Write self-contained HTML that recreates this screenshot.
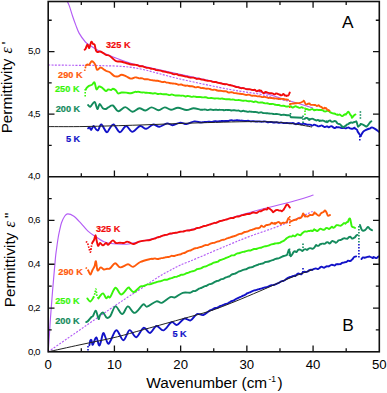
<!DOCTYPE html>
<html><head><meta charset="utf-8"><style>
html,body{margin:0;padding:0;background:#fff;}
svg{display:block;font-family:"Liberation Sans",sans-serif;}
</style></head><body>
<svg width="387" height="393" viewBox="0 0 387 393">
<rect width="387" height="393" fill="#fff"/>
<path d="M67.30,1.50 C67.67,2.32 68.60,3.90 69.50,6.40 C70.40,8.90 71.63,13.33 72.70,16.50 C73.77,19.67 74.83,22.63 75.90,25.40 C76.97,28.17 77.52,30.33 79.10,33.10 C80.68,35.87 83.50,39.88 85.40,42.00 C87.30,44.12 88.35,44.38 90.50,45.80 C92.65,47.22 94.42,48.58 98.30,50.50 C102.18,52.42 108.52,55.22 113.80,57.30 C119.08,59.38 124.30,61.33 130.00,63.00 C135.70,64.67 139.67,65.42 148.00,67.30 C156.33,69.18 166.33,71.35 180.00,74.30 C193.67,77.25 216.67,82.05 230.00,85.00 C243.33,87.95 250.00,89.33 260.00,92.00 C270.00,94.67 281.17,98.33 290.00,101.00 C298.83,103.67 309.17,106.83 313.00,108.00" fill="none" stroke="#b35cf5" stroke-width="1.15"/>
<path d="M48.20,65.00 C52.67,65.05 66.37,65.20 75.00,65.30 C83.63,65.40 90.00,65.17 100.00,65.60 C110.00,66.03 121.67,65.67 135.00,67.90 C148.33,70.13 164.17,75.40 180.00,79.00 C195.83,82.60 216.67,86.97 230.00,89.50 C243.33,92.03 252.50,92.75 260.00,94.20 C267.50,95.65 270.00,96.98 275.00,98.20 C280.00,99.42 287.50,100.95 290.00,101.50" fill="none" stroke="#b35cf5" stroke-width="1.15" stroke-dasharray="2.0 1.4"/>
<path d="M48.20,351.80 C48.40,348.98 49.02,340.60 49.40,334.90 C49.78,329.20 49.98,324.82 50.50,317.60 C51.02,310.38 51.68,301.47 52.50,291.60 C53.32,281.73 54.75,265.33 55.40,258.40 C56.05,251.47 55.93,253.48 56.40,250.00 C56.87,246.52 57.68,240.67 58.20,237.50 C58.72,234.33 58.95,233.45 59.50,231.00 C60.05,228.55 60.62,225.30 61.50,222.80 C62.38,220.30 63.75,217.48 64.80,216.00 C65.85,214.52 66.35,213.90 67.80,213.90 C69.25,213.90 71.37,214.52 73.50,216.00 C75.63,217.48 78.23,220.33 80.60,222.80 C82.97,225.27 85.33,228.58 87.70,230.80 C90.07,233.02 92.08,234.27 94.80,236.10 C97.52,237.93 100.95,240.52 104.00,241.80 C107.05,243.08 109.33,243.40 113.10,243.80 C116.87,244.20 123.28,244.32 126.60,244.20 C129.92,244.08 129.23,243.88 133.00,243.10 C136.77,242.32 143.87,240.80 149.20,239.50 C154.53,238.20 157.87,237.00 165.00,235.30 C172.13,233.60 184.50,231.13 192.00,229.30 C199.50,227.47 203.95,226.05 210.00,224.30 C216.05,222.55 221.38,220.85 228.30,218.80 C235.22,216.75 240.38,215.00 251.50,212.00 C262.62,209.00 284.67,203.63 295.00,200.80 C305.33,197.97 310.42,195.97 313.50,195.00" fill="none" stroke="#b35cf5" stroke-width="1.15"/>
<path d="M48.20,351.80 C56.83,345.83 86.70,325.13 100.00,316.00 C113.30,306.87 121.33,301.42 128.00,297.00 C134.67,292.58 136.33,291.92 140.00,289.50 C143.67,287.08 146.67,284.75 150.00,282.50 C153.33,280.25 156.67,278.02 160.00,276.00 C163.33,273.98 166.67,272.18 170.00,270.40 C173.33,268.62 175.00,267.53 180.00,265.30 C185.00,263.07 191.95,260.38 200.00,257.00 C208.05,253.62 219.72,248.55 228.30,245.00 C236.88,241.45 243.75,238.60 251.50,235.70 C259.25,232.80 267.55,230.32 274.80,227.60 C282.05,224.88 288.68,222.10 295.00,219.40 C301.32,216.70 309.75,212.73 312.70,211.40" fill="none" stroke="#b35cf5" stroke-width="1.15" stroke-dasharray="2.0 1.4"/>
<path d="M88.10,128.30 C88.37,128.18 89.18,127.33 89.70,127.60 C90.22,127.87 90.57,130.17 91.20,129.90 C91.83,129.63 92.72,126.13 93.50,126.00 C94.28,125.87 95.12,128.40 95.90,129.10 C96.68,129.80 97.30,130.97 98.20,130.20 C99.10,129.43 99.88,124.17 101.30,124.50 C102.72,124.83 105.28,131.57 106.70,132.20 C108.12,132.83 108.63,129.58 109.80,128.30 C110.97,127.02 112.02,123.85 113.70,124.50 C115.38,125.15 117.83,131.95 119.90,132.20 C121.97,132.45 124.03,126.05 126.10,126.00 C128.17,125.95 129.98,131.90 132.30,131.90 C134.62,131.90 137.68,126.52 140.00,126.00 C142.32,125.48 144.00,129.05 146.20,128.80 C148.40,128.55 151.00,124.83 153.20,124.50 C155.40,124.17 157.08,126.98 159.40,126.80 C161.72,126.62 164.90,123.67 167.10,123.40 C169.30,123.13 170.40,125.33 172.60,125.20 C174.80,125.07 177.98,122.78 180.30,122.60 C182.62,122.42 184.17,124.30 186.50,124.10 C188.83,123.90 192.05,121.70 194.30,121.40 C196.55,121.10 198.80,122.13 200.00,122.30 C201.20,122.47 201.00,122.44 201.50,122.42 C202.00,122.40 202.50,122.27 203.00,122.19 C203.50,122.12 204.00,122.00 204.50,121.98 C205.00,121.95 205.50,122.06 206.00,122.04 C206.50,122.02 207.00,121.92 207.50,121.85 C208.00,121.77 208.50,121.58 209.00,121.59 C209.50,121.60 210.00,121.85 210.50,121.90 C211.00,121.95 211.50,121.97 212.00,121.90 C212.50,121.83 213.00,121.62 213.50,121.49 C214.00,121.36 214.50,121.10 215.00,121.09 C215.50,121.09 216.00,121.40 216.50,121.45 C217.00,121.50 217.50,121.45 218.00,121.42 C218.50,121.39 219.00,121.34 219.50,121.29 C220.00,121.24 220.50,121.16 221.00,121.11 C221.50,121.06 222.00,120.98 222.50,120.98 C223.00,120.98 223.50,121.14 224.00,121.13 C224.50,121.12 225.00,120.96 225.50,120.94 C226.00,120.92 226.50,120.98 227.00,120.99 C227.50,121.00 228.00,121.11 228.50,121.02 C229.00,120.93 229.50,120.60 230.00,120.46 C230.50,120.31 231.00,120.13 231.50,120.15 C232.00,120.16 232.50,120.50 233.00,120.57 C233.50,120.63 234.17,120.57 234.50,120.55 C234.83,120.52 234.75,120.43 235.00,120.40 C235.25,120.37 235.58,120.37 236.00,120.35 C236.42,120.33 237.00,120.26 237.50,120.28 C238.00,120.29 238.50,120.38 239.00,120.44 C239.50,120.51 240.00,120.63 240.50,120.66 C241.00,120.68 241.50,120.53 242.00,120.58 C242.50,120.62 243.00,120.85 243.50,120.93 C244.00,121.01 244.50,121.08 245.00,121.07 C245.50,121.07 246.00,120.98 246.50,120.91 C247.00,120.85 247.50,120.65 248.00,120.68 C248.50,120.70 249.00,120.96 249.50,121.07 C250.00,121.18 250.50,121.35 251.00,121.36 C251.50,121.38 252.00,121.18 252.50,121.16 C253.00,121.14 253.50,121.18 254.00,121.22 C254.50,121.27 255.00,121.38 255.50,121.43 C256.00,121.49 256.50,121.54 257.00,121.54 C257.50,121.53 258.00,121.43 258.50,121.42 C259.00,121.41 259.50,121.45 260.00,121.50 C260.50,121.55 261.00,121.72 261.50,121.74 C262.00,121.76 262.50,121.67 263.00,121.62 C263.50,121.57 264.00,121.42 264.50,121.42 C265.00,121.42 265.50,121.49 266.00,121.63 C266.50,121.78 267.00,122.22 267.50,122.30 C268.00,122.38 268.50,122.17 269.00,122.13 C269.50,122.09 270.00,122.07 270.50,122.07 C271.00,122.06 271.50,122.02 272.00,122.10 C272.50,122.18 273.00,122.47 273.50,122.54 C274.00,122.60 274.50,122.51 275.00,122.47 C275.50,122.43 276.00,122.26 276.50,122.29 C277.00,122.32 277.50,122.56 278.00,122.66 C278.50,122.76 279.00,122.91 279.50,122.88 C280.00,122.85 280.50,122.50 281.00,122.50 C281.50,122.49 282.00,122.74 282.50,122.85 C283.00,122.96 283.50,123.11 284.00,123.15 C284.50,123.18 285.00,123.10 285.50,123.08 C286.00,123.06 286.50,122.99 287.00,123.00 C287.50,123.02 288.00,123.11 288.50,123.16 C289.00,123.21 289.50,123.29 290.00,123.30 C290.50,123.31 291.00,123.29 291.50,123.24 C292.00,123.20 292.50,122.95 293.00,123.02 C293.50,123.10 294.00,123.50 294.50,123.70 C295.00,123.90 295.50,124.27 296.00,124.22 C296.50,124.18 297.00,123.63 297.50,123.43 C298.00,123.24 298.50,122.94 299.00,123.06 C299.50,123.17 300.00,123.93 300.50,124.12 C301.00,124.31 301.58,124.22 302.00,124.20 C302.42,124.18 302.75,124.12 303.00,124.00 C303.25,123.88 303.17,123.46 303.50,123.47 C303.83,123.47 304.50,123.88 305.00,124.03 C305.50,124.17 306.00,124.19 306.50,124.32 C307.00,124.44 307.50,124.73 308.00,124.77 C308.50,124.82 309.00,124.56 309.50,124.58 C310.00,124.60 310.50,124.71 311.00,124.88 C311.50,125.05 312.00,125.63 312.50,125.60 C313.00,125.57 313.50,124.79 314.00,124.70 C314.50,124.61 315.00,124.89 315.50,125.05 C316.00,125.21 316.50,125.45 317.00,125.67 C317.50,125.90 318.00,126.34 318.50,126.39 C319.00,126.45 319.50,126.17 320.00,126.00 C320.50,125.83 321.00,125.38 321.50,125.40 C322.00,125.42 322.50,125.87 323.00,126.13 C323.50,126.39 324.00,126.87 324.50,126.95 C325.00,127.02 325.50,126.67 326.00,126.60 C326.50,126.53 327.00,126.39 327.50,126.51 C328.00,126.63 328.50,127.33 329.00,127.32 C329.50,127.31 330.00,126.61 330.50,126.45 C331.00,126.29 331.50,126.16 332.00,126.34 C332.50,126.51 333.00,127.23 333.50,127.50 C334.00,127.77 334.50,128.06 335.00,127.99 C335.50,127.91 336.12,127.13 336.50,127.03 C336.88,126.93 337.05,127.36 337.30,127.40 C337.55,127.44 337.63,127.26 338.00,127.25 C338.37,127.25 339.00,127.25 339.50,127.36 C340.00,127.47 340.50,127.80 341.00,127.92 C341.50,128.05 342.00,128.11 342.50,128.11 C343.00,128.10 343.50,127.87 344.00,127.91 C344.50,127.96 345.17,128.31 345.50,128.38 C345.83,128.44 345.75,128.37 346.00,128.30 C346.25,128.23 346.58,128.07 347.00,127.93 C347.42,127.79 348.00,127.39 348.50,127.46 C349.00,127.54 349.50,128.14 350.00,128.36 C350.50,128.58 351.00,128.76 351.50,128.78 C352.00,128.81 352.50,128.71 353.00,128.51 C353.50,128.32 354.23,127.66 354.50,127.62 C354.77,127.59 354.35,128.07 354.60,128.30 C354.85,128.53 355.57,128.70 356.00,128.98 C356.43,129.27 356.95,129.62 357.20,130.00 C357.45,130.38 357.22,130.72 357.50,131.28 C357.78,131.85 358.65,133.01 358.90,133.40 C359.15,133.79 358.70,133.18 359.00,133.61 C359.30,134.04 360.42,135.60 360.70,136.00" fill="none" stroke="#1212c8" stroke-width="1.90" stroke-linejoin="round" stroke-linecap="round"/>
<path d="M360.70,136.00 C361.13,135.28 362.30,132.77 363.30,131.70 C364.30,130.63 365.55,130.17 366.70,129.60 C367.85,129.03 369.33,128.67 370.20,128.30 C371.07,127.93 371.03,127.27 371.90,127.40 C372.77,127.53 374.25,128.38 375.40,129.10 C376.55,129.82 378.23,131.27 378.80,131.70" fill="none" stroke="#1212c8" stroke-width="1.90" stroke-linejoin="round" stroke-linecap="round"/>
<line x1="359.8" y1="136.0" x2="359.8" y2="141.0" stroke="#1212c8" stroke-width="1.60" stroke-dasharray="1.4 1.6"/>
<path d="M88.10,105.10 C88.48,105.35 89.32,107.12 90.40,106.60 C91.48,106.08 93.43,101.60 94.60,102.00 C95.77,102.40 96.55,108.67 97.40,109.00 C98.25,109.33 98.80,104.13 99.70,104.00 C100.60,103.87 101.77,107.37 102.80,108.20 C103.83,109.03 104.98,109.13 105.90,109.00 C106.82,108.87 107.13,107.98 108.30,107.40 C109.47,106.82 111.23,104.85 112.90,105.50 C114.57,106.15 116.23,111.03 118.30,111.30 C120.37,111.57 122.97,107.03 125.30,107.10 C127.63,107.17 129.97,111.52 132.30,111.70 C134.63,111.88 137.12,108.40 139.30,108.20 C141.48,108.00 143.35,110.63 145.40,110.50 C147.45,110.37 149.40,107.45 151.60,107.40 C153.80,107.35 156.40,110.20 158.60,110.20 C160.80,110.20 162.73,107.48 164.80,107.40 C166.87,107.32 168.80,109.65 171.00,109.70 C173.20,109.75 175.42,107.65 178.00,107.70 C180.58,107.75 183.92,109.92 186.50,110.00 C189.08,110.08 191.25,108.27 193.50,108.20 C195.75,108.13 198.67,109.34 200.00,109.60 C201.33,109.86 201.00,109.74 201.50,109.75 C202.00,109.77 202.50,109.71 203.00,109.67 C203.50,109.62 204.00,109.48 204.50,109.48 C205.00,109.48 205.50,109.55 206.00,109.65 C206.50,109.75 207.00,110.07 207.50,110.10 C208.00,110.13 208.50,109.96 209.00,109.86 C209.50,109.75 210.00,109.51 210.50,109.49 C211.00,109.47 211.50,109.66 212.00,109.74 C212.50,109.82 213.00,109.95 213.50,109.95 C214.00,109.95 214.50,109.78 215.00,109.75 C215.50,109.71 216.00,109.70 216.50,109.74 C217.00,109.77 217.50,109.95 218.00,109.96 C218.50,109.97 219.00,109.82 219.50,109.81 C220.00,109.79 220.50,109.87 221.00,109.88 C221.50,109.89 222.00,109.82 222.50,109.87 C223.00,109.92 223.50,110.16 224.00,110.18 C224.50,110.19 225.00,110.00 225.50,109.95 C226.00,109.91 226.50,109.92 227.00,109.93 C227.50,109.94 228.00,109.99 228.50,110.02 C229.00,110.05 229.50,110.03 230.00,110.10 C230.50,110.17 231.00,110.43 231.50,110.45 C232.00,110.48 232.50,110.29 233.00,110.27 C233.50,110.24 234.00,110.24 234.50,110.30 C235.00,110.35 235.50,110.53 236.00,110.57 C236.50,110.62 237.00,110.57 237.50,110.58 C238.00,110.59 238.50,110.51 239.00,110.63 C239.50,110.75 240.00,111.23 240.50,111.31 C241.00,111.40 241.50,111.23 242.00,111.15 C242.50,111.07 243.00,110.81 243.50,110.82 C244.00,110.83 244.50,111.10 245.00,111.21 C245.50,111.32 246.00,111.38 246.50,111.49 C247.00,111.59 247.50,111.84 248.00,111.85 C248.50,111.86 249.00,111.56 249.50,111.55 C250.00,111.53 250.50,111.67 251.00,111.73 C251.50,111.79 252.00,111.87 252.50,111.91 C253.00,111.94 253.50,111.94 254.00,111.94 C254.50,111.95 255.00,111.89 255.50,111.94 C256.00,112.00 256.50,112.17 257.00,112.29 C257.50,112.41 258.00,112.64 258.50,112.68 C259.00,112.71 259.50,112.56 260.00,112.50 C260.50,112.44 261.00,112.24 261.50,112.32 C262.00,112.41 262.50,112.91 263.00,113.03 C263.50,113.16 264.00,113.05 264.50,113.08 C265.00,113.10 265.50,113.15 266.00,113.18 C266.50,113.21 267.00,113.20 267.50,113.26 C268.00,113.32 268.50,113.47 269.00,113.53 C269.50,113.59 270.00,113.60 270.50,113.61 C271.00,113.63 271.50,113.55 272.00,113.62 C272.50,113.69 273.00,113.97 273.50,114.05 C274.00,114.12 274.50,114.09 275.00,114.09 C275.50,114.08 276.00,114.00 276.50,114.00 C277.00,114.01 277.50,114.06 278.00,114.13 C278.50,114.20 279.00,114.30 279.50,114.44 C280.00,114.58 280.50,114.93 281.00,115.00 C281.50,115.06 282.00,114.89 282.50,114.85 C283.00,114.80 283.50,114.68 284.00,114.71 C284.50,114.74 285.00,114.95 285.50,115.03 C286.00,115.11 286.50,115.18 287.00,115.21 C287.50,115.24 288.00,115.16 288.50,115.21 C289.00,115.26 289.75,115.45 290.00,115.50" fill="none" stroke="#138a5c" stroke-width="1.90" stroke-linejoin="round" stroke-linecap="round"/>
<path d="M291.00,117.30 L302.00,117.80" fill="none" stroke="#138a5c" stroke-width="1.90" stroke-linejoin="round" stroke-linecap="round"/>
<line x1="303.0" y1="115.5" x2="303.0" y2="124.0" stroke="#138a5c" stroke-width="1.60" stroke-dasharray="1.4 1.6"/>
<line x1="290.5" y1="113.0" x2="290.5" y2="117.5" stroke="#138a5c" stroke-width="1.60" stroke-dasharray="1.4 1.6"/>
<path d="M304.50,118.80 C304.75,118.67 305.50,118.12 306.00,118.01 C306.50,117.90 307.00,117.81 307.50,118.13 C308.00,118.45 308.58,119.79 309.00,119.94 C309.42,120.08 309.75,119.10 310.00,119.00 C310.25,118.90 310.17,119.41 310.50,119.34 C310.83,119.28 311.50,118.61 312.00,118.59 C312.50,118.57 313.00,119.00 313.50,119.20 C314.00,119.41 314.50,119.63 315.00,119.84 C315.50,120.05 316.00,120.45 316.50,120.44 C317.00,120.44 317.50,119.74 318.00,119.83 C318.50,119.92 319.17,120.88 319.50,120.99 C319.83,121.10 319.75,120.54 320.00,120.50 C320.25,120.46 320.58,120.76 321.00,120.75 C321.42,120.74 322.00,120.43 322.50,120.44 C323.00,120.45 323.50,120.59 324.00,120.81 C324.50,121.02 325.02,121.65 325.50,121.73 C325.98,121.81 326.65,121.21 326.90,121.30 C327.15,121.39 326.73,122.30 327.00,122.28 C327.27,122.26 328.00,121.49 328.50,121.17 C329.00,120.86 329.50,120.28 330.00,120.38 C330.50,120.47 331.00,121.53 331.50,121.74 C332.00,121.95 332.50,121.77 333.00,121.65 C333.50,121.53 334.07,121.08 334.50,121.02 C334.93,120.97 335.35,121.23 335.60,121.30 C335.85,121.37 335.68,121.08 336.00,121.43 C336.32,121.78 337.00,122.96 337.50,123.39 C338.00,123.82 338.50,123.80 339.00,124.00 C339.50,124.20 340.00,124.11 340.50,124.58 C341.00,125.04 341.67,126.46 342.00,126.78 C342.33,127.10 342.25,126.43 342.50,126.50 C342.75,126.57 343.08,127.26 343.50,127.21 C343.92,127.15 344.58,126.40 345.00,126.15 C345.42,125.90 345.75,125.94 346.00,125.70 C346.25,125.46 346.17,124.95 346.50,124.71 C346.83,124.47 347.52,124.57 348.00,124.29 C348.48,124.00 349.15,123.14 349.40,123.00 C349.65,122.86 349.23,123.54 349.50,123.45 C349.77,123.36 350.50,122.58 351.00,122.46 C351.50,122.34 352.05,122.77 352.50,122.73 C352.95,122.69 353.45,122.28 353.70,122.20 C353.95,122.12 353.70,122.31 354.00,122.22 C354.30,122.13 355.12,121.82 355.50,121.67 C355.88,121.51 356.05,121.04 356.30,121.30 C356.55,121.56 356.72,122.37 357.00,123.24 C357.28,124.11 357.75,125.99 358.00,126.50 C358.25,127.01 358.17,126.51 358.50,126.28 C358.83,126.04 359.63,125.48 360.00,125.10 C360.37,124.72 360.58,124.18 360.70,124.00" fill="none" stroke="#138a5c" stroke-width="1.90" stroke-linejoin="round" stroke-linecap="round"/>
<line x1="360.4" y1="111.3" x2="360.4" y2="119.0" stroke="#138a5c" stroke-width="1.60" stroke-dasharray="1.4 1.6"/>
<path d="M360.70,124.00 C361.13,124.13 362.30,124.38 363.30,124.80 C364.30,125.22 365.55,126.93 366.70,126.50 C367.85,126.07 369.42,123.07 370.20,122.20 C370.98,121.33 371.20,121.45 371.40,121.30" fill="none" stroke="#138a5c" stroke-width="1.90" stroke-linejoin="round" stroke-linecap="round"/>
<path d="M85.90,89.50 C86.00,89.28 85.98,88.80 86.50,88.20 C87.02,87.60 88.08,86.47 89.00,85.90 C89.92,85.33 91.08,85.37 92.00,84.80 C92.92,84.23 93.75,81.73 94.50,82.50 C95.25,83.27 95.75,88.73 96.50,89.40 C97.25,90.07 98.08,86.80 99.00,86.50 C99.92,86.20 100.83,86.83 102.00,87.60 C103.17,88.37 105.00,90.80 106.00,91.10 C107.00,91.40 107.17,89.58 108.00,89.40 C108.83,89.22 110.17,90.10 111.00,90.00 C111.83,89.90 112.17,88.72 113.00,88.80 C113.83,88.88 115.17,89.73 116.00,90.50 C116.83,91.27 117.08,93.07 118.00,93.40 C118.92,93.73 120.13,92.63 121.50,92.50 C122.87,92.37 124.65,92.47 126.20,92.60 C127.75,92.73 129.33,93.43 130.80,93.30 C132.27,93.17 134.05,92.03 135.00,91.80 C135.95,91.57 136.00,91.95 136.50,91.94 C137.00,91.94 137.50,91.75 138.00,91.77 C138.50,91.79 139.00,91.95 139.50,92.05 C140.00,92.15 140.50,92.30 141.00,92.37 C141.50,92.44 142.00,92.47 142.50,92.47 C143.00,92.47 143.50,92.34 144.00,92.38 C144.50,92.42 145.00,92.66 145.50,92.72 C146.00,92.79 146.50,92.73 147.00,92.76 C147.50,92.79 148.00,92.88 148.50,92.92 C149.00,92.97 149.50,92.96 150.00,93.02 C150.50,93.07 151.00,93.18 151.50,93.27 C152.00,93.35 152.50,93.52 153.00,93.52 C153.50,93.51 154.00,93.27 154.50,93.23 C155.00,93.20 155.50,93.18 156.00,93.31 C156.50,93.43 157.00,93.90 157.50,94.00 C158.00,94.10 158.50,93.95 159.00,93.91 C159.50,93.86 160.00,93.70 160.50,93.73 C161.00,93.77 161.50,94.04 162.00,94.12 C162.50,94.21 163.00,94.22 163.50,94.23 C164.00,94.24 164.50,94.19 165.00,94.20 C165.50,94.20 166.00,94.21 166.50,94.29 C167.00,94.37 167.50,94.55 168.00,94.68 C168.50,94.81 169.00,95.09 169.50,95.08 C170.00,95.06 170.50,94.69 171.00,94.61 C171.50,94.53 172.00,94.50 172.50,94.60 C173.00,94.70 173.50,95.05 174.00,95.20 C174.50,95.35 175.00,95.44 175.50,95.48 C176.00,95.53 176.50,95.47 177.00,95.47 C177.50,95.46 178.00,95.42 178.50,95.44 C179.00,95.46 179.50,95.56 180.00,95.60 C180.50,95.64 181.00,95.67 181.50,95.68 C182.00,95.68 182.50,95.55 183.00,95.62 C183.50,95.70 184.00,95.99 184.50,96.13 C185.00,96.26 185.50,96.47 186.00,96.44 C186.50,96.41 187.00,96.01 187.50,95.95 C188.00,95.89 188.50,95.97 189.00,96.07 C189.50,96.17 190.00,96.41 190.50,96.54 C191.00,96.67 191.50,96.83 192.00,96.84 C192.50,96.85 193.00,96.60 193.50,96.57 C194.00,96.55 194.50,96.62 195.00,96.68 C195.50,96.73 196.00,96.89 196.50,96.93 C197.00,96.97 197.50,96.91 198.00,96.93 C198.50,96.95 199.00,97.01 199.50,97.05 C200.00,97.08 200.50,97.08 201.00,97.14 C201.50,97.20 202.00,97.35 202.50,97.39 C203.00,97.43 203.50,97.41 204.00,97.38 C204.50,97.35 205.00,97.18 205.50,97.21 C206.00,97.24 206.50,97.43 207.00,97.58 C207.50,97.73 208.00,98.02 208.50,98.11 C209.00,98.19 209.50,98.12 210.00,98.10 C210.50,98.08 211.00,97.96 211.50,97.98 C212.00,98.00 212.50,98.14 213.00,98.23 C213.50,98.31 214.00,98.45 214.50,98.48 C215.00,98.51 215.50,98.41 216.00,98.40 C216.50,98.38 217.00,98.34 217.50,98.39 C218.00,98.43 218.50,98.61 219.00,98.67 C219.50,98.74 220.00,98.81 220.50,98.80 C221.00,98.78 221.50,98.55 222.00,98.57 C222.50,98.58 223.00,98.77 223.50,98.87 C224.00,98.97 224.50,99.12 225.00,99.18 C225.50,99.24 226.00,99.21 226.50,99.22 C227.00,99.23 227.50,99.23 228.00,99.24 C228.50,99.26 229.00,99.24 229.50,99.31 C230.00,99.38 230.50,99.63 231.00,99.66 C231.50,99.69 232.00,99.49 232.50,99.49 C233.00,99.49 233.50,99.55 234.00,99.65 C234.50,99.76 235.00,100.05 235.50,100.13 C236.00,100.21 236.50,100.14 237.00,100.12 C237.50,100.10 238.00,100.00 238.50,100.02 C239.00,100.03 239.50,100.12 240.00,100.20 C240.50,100.28 241.00,100.40 241.50,100.49 C242.00,100.58 242.50,100.70 243.00,100.73 C243.50,100.76 244.00,100.65 244.50,100.65 C245.00,100.64 245.50,100.58 246.00,100.67 C246.50,100.77 247.00,101.09 247.50,101.19 C248.00,101.29 248.50,101.26 249.00,101.25 C249.50,101.25 250.00,101.13 250.50,101.17 C251.00,101.21 251.50,101.35 252.00,101.48 C252.50,101.62 253.00,101.96 253.50,101.97 C254.00,101.98 254.50,101.60 255.00,101.55 C255.50,101.51 256.00,101.58 256.50,101.70 C257.00,101.82 257.50,102.13 258.00,102.29 C258.50,102.46 259.17,102.66 259.50,102.67 C259.83,102.69 259.75,102.42 260.00,102.40 C260.25,102.38 260.58,102.54 261.00,102.56 C261.42,102.58 262.00,102.47 262.50,102.54 C263.00,102.62 263.50,102.89 264.00,103.03 C264.50,103.17 265.00,103.35 265.50,103.39 C266.00,103.44 266.50,103.26 267.00,103.30 C267.50,103.34 268.00,103.52 268.50,103.64 C269.00,103.77 269.50,103.98 270.00,104.04 C270.50,104.10 271.00,104.03 271.50,104.01 C272.00,103.99 272.50,103.83 273.00,103.92 C273.50,104.00 274.00,104.33 274.50,104.50 C275.00,104.67 275.50,104.84 276.00,104.92 C276.50,105.00 277.00,104.98 277.50,104.99 C278.00,105.01 278.50,104.90 279.00,105.00 C279.50,105.09 280.00,105.41 280.50,105.55 C281.00,105.69 281.50,105.81 282.00,105.84 C282.50,105.87 283.00,105.69 283.50,105.73 C284.00,105.78 284.50,106.00 285.00,106.14 C285.50,106.27 286.00,106.50 286.50,106.56 C287.00,106.62 287.50,106.54 288.00,106.50 C288.50,106.46 289.00,106.35 289.50,106.34 C290.00,106.33 290.50,106.26 291.00,106.46 C291.50,106.66 292.00,107.46 292.50,107.54 C293.00,107.61 293.50,107.13 294.00,106.91 C294.50,106.69 295.00,106.26 295.50,106.23 C296.00,106.21 296.50,106.56 297.00,106.77 C297.50,106.98 298.00,107.32 298.50,107.50 C299.00,107.68 299.50,107.92 300.00,107.87 C300.50,107.82 301.00,107.20 301.50,107.19 C302.00,107.18 302.75,107.70 303.00,107.80" fill="none" stroke="#38f50a" stroke-width="1.90" stroke-linejoin="round" stroke-linecap="round"/>
<path d="M305.50,109.30 C305.67,109.22 306.08,108.80 306.50,108.83 C306.92,108.86 307.50,109.32 308.00,109.50 C308.50,109.68 309.00,109.93 309.50,109.91 C310.00,109.90 310.50,109.57 311.00,109.43 C311.50,109.28 312.00,108.89 312.50,109.04 C313.00,109.19 313.58,110.19 314.00,110.32 C314.42,110.45 314.75,109.85 315.00,109.80 C315.25,109.75 315.17,110.02 315.50,110.00 C315.83,109.99 316.50,109.70 317.00,109.70 C317.50,109.71 318.00,109.99 318.50,110.04 C319.00,110.09 319.50,110.00 320.00,110.00 C320.50,110.00 321.00,109.98 321.50,110.06 C322.00,110.14 322.50,110.25 323.00,110.47 C323.50,110.69 324.00,111.23 324.50,111.38 C325.00,111.53 325.58,111.42 326.00,111.36 C326.42,111.29 326.75,111.16 327.00,111.00 C327.25,110.84 327.17,110.33 327.50,110.39 C327.83,110.44 328.52,111.00 329.00,111.35 C329.48,111.70 330.15,112.32 330.40,112.50 C330.65,112.68 330.23,112.31 330.50,112.42 C330.77,112.53 331.50,112.98 332.00,113.16 C332.50,113.33 333.00,113.38 333.50,113.48 C334.00,113.57 334.50,113.55 335.00,113.74 C335.50,113.93 336.12,114.48 336.50,114.59 C336.88,114.70 337.05,114.33 337.30,114.40 C337.55,114.47 337.63,114.98 338.00,115.00 C338.37,115.01 339.00,114.42 339.50,114.50 C340.00,114.58 340.50,115.21 341.00,115.48 C341.50,115.74 342.00,116.21 342.50,116.10 C343.00,115.99 343.50,115.13 344.00,114.82 C344.50,114.52 345.17,114.32 345.50,114.25 C345.83,114.18 345.75,114.60 346.00,114.40 C346.25,114.20 346.58,113.50 347.00,113.07 C347.42,112.64 348.00,111.61 348.50,111.80 C349.00,111.99 349.50,113.45 350.00,114.18 C350.50,114.91 351.17,115.57 351.50,116.19 C351.83,116.81 351.75,117.84 352.00,117.90 C352.25,117.96 352.58,116.99 353.00,116.52 C353.42,116.05 354.08,115.44 354.50,115.08 C354.92,114.73 355.33,114.51 355.50,114.40" fill="none" stroke="#38f50a" stroke-width="1.90" stroke-linejoin="round" stroke-linecap="round"/>
<line x1="85.2" y1="89.0" x2="85.2" y2="97.5" stroke="#38f50a" stroke-width="1.60" stroke-dasharray="1.4 1.6"/>
<line x1="305.0" y1="107.5" x2="305.0" y2="115.0" stroke="#38f50a" stroke-width="1.60" stroke-dasharray="1.4 1.6"/>
<path d="M84.60,70.90 C84.72,70.42 85.07,68.93 85.30,68.00 C85.53,67.07 85.88,65.75 86.00,65.30" fill="none" stroke="#ff5a0a" stroke-width="1.70" stroke-dasharray="1.5 1.3"/>
<path d="M86.00,65.30 C86.25,65.17 86.97,64.60 87.50,64.50 C88.03,64.40 88.53,65.23 89.20,64.70 C89.87,64.17 90.75,61.68 91.50,61.30 C92.25,60.92 93.03,61.73 93.70,62.40 C94.37,63.07 94.92,64.05 95.50,65.30 C96.08,66.55 96.35,69.53 97.20,69.90 C98.05,70.27 99.37,67.50 100.60,67.50 C101.83,67.50 103.65,69.32 104.60,69.90 C105.55,70.48 105.43,70.62 106.30,71.00 C107.17,71.38 108.45,71.33 109.80,72.20 C111.15,73.07 112.97,75.52 114.40,76.20 C115.83,76.88 117.22,76.55 118.40,76.30 C119.58,76.05 120.20,74.70 121.50,74.70 C122.80,74.70 124.65,75.65 126.20,76.30 C127.75,76.95 129.33,78.42 130.80,78.60 C132.27,78.78 134.05,77.59 135.00,77.40 C135.95,77.21 136.00,77.41 136.50,77.49 C137.00,77.57 137.50,77.73 138.00,77.88 C138.50,78.03 139.00,78.32 139.50,78.38 C140.00,78.43 140.50,78.19 141.00,78.20 C141.50,78.21 142.00,78.31 142.50,78.45 C143.00,78.59 143.50,78.89 144.00,79.04 C144.50,79.18 145.00,79.25 145.50,79.30 C146.00,79.34 146.50,79.27 147.00,79.28 C147.50,79.30 148.00,79.27 148.50,79.38 C149.00,79.49 149.50,79.81 150.00,79.94 C150.50,80.07 151.00,80.11 151.50,80.17 C152.00,80.24 152.50,80.27 153.00,80.33 C153.50,80.39 154.00,80.48 154.50,80.55 C155.00,80.63 155.50,80.75 156.00,80.79 C156.50,80.82 157.00,80.71 157.50,80.76 C158.00,80.81 158.50,80.95 159.00,81.07 C159.50,81.20 160.00,81.33 160.50,81.49 C161.00,81.65 161.50,81.98 162.00,82.06 C162.50,82.13 163.00,81.98 163.50,81.94 C164.00,81.90 164.50,81.72 165.00,81.82 C165.50,81.92 166.00,82.40 166.50,82.54 C167.00,82.68 167.50,82.58 168.00,82.66 C168.50,82.73 169.00,82.90 169.50,83.00 C170.00,83.10 170.50,83.20 171.00,83.27 C171.50,83.34 172.00,83.38 172.50,83.44 C173.00,83.50 173.50,83.60 174.00,83.65 C174.50,83.69 175.00,83.64 175.50,83.71 C176.00,83.78 176.50,83.88 177.00,84.05 C177.50,84.22 178.00,84.62 178.50,84.71 C179.00,84.81 179.50,84.64 180.00,84.60 C180.50,84.56 181.00,84.36 181.50,84.45 C182.00,84.54 182.50,84.97 183.00,85.15 C183.50,85.32 184.00,85.41 184.50,85.50 C185.00,85.59 185.50,85.67 186.00,85.68 C186.50,85.69 187.00,85.51 187.50,85.57 C188.00,85.63 188.50,85.92 189.00,86.03 C189.50,86.14 190.00,86.20 190.50,86.24 C191.00,86.27 191.50,86.19 192.00,86.24 C192.50,86.30 193.00,86.37 193.50,86.55 C194.00,86.73 194.50,87.19 195.00,87.32 C195.50,87.44 196.00,87.37 196.50,87.32 C197.00,87.27 197.50,87.03 198.00,87.04 C198.50,87.04 199.00,87.20 199.50,87.37 C200.00,87.54 200.50,87.92 201.00,88.04 C201.50,88.15 202.00,88.04 202.50,88.07 C203.00,88.11 203.50,88.18 204.00,88.27 C204.50,88.35 205.00,88.50 205.50,88.58 C206.00,88.66 206.50,88.73 207.00,88.74 C207.50,88.75 208.00,88.57 208.50,88.62 C209.00,88.66 209.50,88.83 210.00,89.01 C210.50,89.18 211.00,89.54 211.50,89.68 C212.00,89.83 212.50,89.89 213.00,89.88 C213.50,89.87 214.00,89.60 214.50,89.63 C215.00,89.65 215.50,89.88 216.00,90.03 C216.50,90.18 217.00,90.38 217.50,90.51 C218.00,90.64 218.50,90.77 219.00,90.81 C219.50,90.86 220.00,90.75 220.50,90.79 C221.00,90.82 221.50,90.93 222.00,91.00 C222.50,91.08 223.00,91.18 223.50,91.22 C224.00,91.25 224.50,91.17 225.00,91.21 C225.50,91.25 226.00,91.28 226.50,91.46 C227.00,91.64 227.50,92.12 228.00,92.30 C228.50,92.47 229.00,92.51 229.50,92.51 C230.00,92.51 230.50,92.34 231.00,92.30 C231.50,92.27 232.00,92.17 232.50,92.30 C233.00,92.42 233.50,92.91 234.00,93.05 C234.50,93.20 235.00,93.09 235.50,93.15 C236.00,93.21 236.50,93.33 237.00,93.40 C237.50,93.48 238.00,93.52 238.50,93.59 C239.00,93.65 239.50,93.73 240.00,93.80 C240.50,93.87 241.00,93.93 241.50,93.98 C242.00,94.03 242.50,94.00 243.00,94.09 C243.50,94.18 244.00,94.40 244.50,94.55 C245.00,94.69 245.50,94.91 246.00,94.96 C246.50,95.00 247.00,94.87 247.50,94.82 C248.00,94.77 248.50,94.59 249.00,94.66 C249.50,94.74 250.00,95.10 250.50,95.27 C251.00,95.45 251.50,95.64 252.00,95.70 C252.50,95.76 253.00,95.65 253.50,95.65 C254.00,95.65 254.50,95.65 255.00,95.72 C255.50,95.79 256.00,95.97 256.50,96.07 C257.00,96.18 257.50,96.31 258.00,96.33 C258.50,96.36 259.17,96.18 259.50,96.20 C259.83,96.23 259.75,96.43 260.00,96.50 C260.25,96.57 260.58,96.53 261.00,96.64 C261.42,96.75 262.00,97.11 262.50,97.15 C263.00,97.19 263.50,96.90 264.00,96.88 C264.50,96.87 265.00,96.98 265.50,97.07 C266.00,97.15 266.50,97.24 267.00,97.39 C267.50,97.55 268.00,97.94 268.50,98.01 C269.00,98.08 269.50,97.80 270.00,97.81 C270.50,97.82 271.00,97.95 271.50,98.04 C272.00,98.13 272.50,98.27 273.00,98.35 C273.50,98.43 274.17,98.49 274.50,98.51 C274.83,98.54 274.75,98.53 275.00,98.50 C275.25,98.47 275.58,98.32 276.00,98.35 C276.42,98.37 277.00,98.55 277.50,98.64 C278.00,98.74 278.50,98.91 279.00,98.94 C279.50,98.98 280.00,98.87 280.50,98.85 C281.00,98.84 281.50,98.82 282.00,98.85 C282.50,98.88 283.00,98.92 283.50,99.03 C284.00,99.14 284.50,99.42 285.00,99.51 C285.50,99.60 286.00,99.55 286.50,99.57 C287.00,99.58 287.75,99.59 288.00,99.60" fill="none" stroke="#ff5a0a" stroke-width="1.90" stroke-linejoin="round" stroke-linecap="round"/>
<line x1="289.8" y1="100.5" x2="289.8" y2="108.0" stroke="#ff5a0a" stroke-width="1.60" stroke-dasharray="1.4 1.6"/>
<path d="M290.50,104.00 C290.75,103.93 291.08,103.73 292.00,103.60 C292.92,103.47 294.67,103.32 296.00,103.20 C297.33,103.08 298.83,103.18 300.00,102.90 C301.17,102.62 302.33,101.85 303.00,101.50 C303.67,101.15 303.58,100.38 304.00,100.80 C304.42,101.22 305.08,103.40 305.50,104.00 C305.92,104.60 306.08,104.41 306.50,104.37 C306.92,104.33 307.50,103.88 308.00,103.74 C308.50,103.59 309.17,103.40 309.50,103.50 C309.83,103.59 309.75,104.08 310.00,104.30 C310.25,104.52 310.58,104.72 311.00,104.82 C311.42,104.91 312.00,104.85 312.50,104.87 C313.00,104.89 313.58,104.93 314.00,104.95 C314.42,104.97 314.75,104.99 315.00,105.00 C315.25,105.01 315.17,104.82 315.50,105.02 C315.83,105.21 316.50,106.15 317.00,106.17 C317.50,106.20 318.00,105.14 318.50,105.19 C319.00,105.25 319.50,106.20 320.00,106.50 C320.50,106.80 321.00,106.67 321.50,107.02 C322.00,107.37 322.50,108.48 323.00,108.60 C323.50,108.73 324.17,107.80 324.50,107.78 C324.83,107.77 324.75,108.45 325.00,108.50 C325.25,108.55 325.58,107.85 326.00,108.09 C326.42,108.32 327.17,109.60 327.50,109.92 C327.83,110.24 327.67,109.87 328.00,110.00 C328.33,110.13 329.25,110.58 329.50,110.70" fill="none" stroke="#ff5a0a" stroke-width="1.90" stroke-linejoin="round" stroke-linecap="round"/>
<path d="M84.60,49.70 C84.77,49.55 85.13,49.67 85.60,48.80 C86.07,47.93 86.78,44.63 87.40,44.50 C88.02,44.37 88.67,48.45 89.30,48.00 C89.93,47.55 90.57,42.47 91.20,41.80 C91.83,41.13 92.53,43.53 93.10,44.00 C93.67,44.47 94.13,43.55 94.60,44.60 C95.07,45.65 95.42,49.07 95.90,50.30 C96.38,51.53 96.82,51.80 97.50,52.00 C98.18,52.20 99.10,51.37 100.00,51.50 C100.90,51.63 101.90,52.25 102.90,52.80 C103.90,53.35 104.98,54.35 106.00,54.80 C107.02,55.25 107.97,54.97 109.00,55.50 C110.03,56.03 111.02,57.05 112.20,58.00 C113.38,58.95 114.80,60.62 116.10,61.20 C117.40,61.78 118.58,61.27 120.00,61.50 C121.42,61.73 122.93,62.15 124.60,62.60 C126.27,63.05 128.27,63.83 130.00,64.20 C131.73,64.57 133.92,64.67 135.00,64.80 C136.08,64.93 136.00,64.89 136.50,64.98 C137.00,65.07 137.50,65.15 138.00,65.35 C138.50,65.56 139.00,66.07 139.50,66.22 C140.00,66.36 140.50,66.20 141.00,66.22 C141.50,66.23 142.00,66.19 142.50,66.30 C143.00,66.41 143.50,66.70 144.00,66.89 C144.50,67.07 145.00,67.24 145.50,67.41 C146.00,67.57 146.50,67.78 147.00,67.87 C147.50,67.96 148.00,67.86 148.50,67.93 C149.00,68.00 149.50,68.17 150.00,68.30 C150.50,68.44 151.00,68.64 151.50,68.74 C152.00,68.84 152.50,68.82 153.00,68.90 C153.50,68.98 154.00,69.02 154.50,69.22 C155.00,69.42 155.50,69.92 156.00,70.08 C156.50,70.24 157.00,70.14 157.50,70.18 C158.00,70.22 158.50,70.25 159.00,70.32 C159.50,70.40 160.00,70.52 160.50,70.65 C161.00,70.78 161.50,70.96 162.00,71.11 C162.50,71.26 163.00,71.45 163.50,71.55 C164.00,71.65 164.50,71.60 165.00,71.71 C165.50,71.82 166.00,72.06 166.50,72.19 C167.00,72.31 167.50,72.35 168.00,72.46 C168.50,72.56 169.00,72.71 169.50,72.81 C170.00,72.91 170.50,72.88 171.00,73.04 C171.50,73.21 172.00,73.61 172.50,73.81 C173.00,74.01 173.50,74.18 174.00,74.24 C174.50,74.30 175.00,74.16 175.50,74.16 C176.00,74.16 176.50,74.08 177.00,74.25 C177.50,74.41 178.00,74.97 178.50,75.15 C179.00,75.33 179.50,75.24 180.00,75.30 C180.50,75.36 181.00,75.42 181.50,75.52 C182.00,75.61 182.50,75.76 183.00,75.88 C183.50,75.99 184.00,76.10 184.50,76.21 C185.00,76.33 185.50,76.47 186.00,76.57 C186.50,76.66 187.00,76.67 187.50,76.79 C188.00,76.90 188.50,77.12 189.00,77.26 C189.50,77.41 190.00,77.61 190.50,77.67 C191.00,77.72 191.50,77.62 192.00,77.62 C192.50,77.61 193.00,77.57 193.50,77.66 C194.00,77.75 194.50,77.95 195.00,78.16 C195.50,78.37 196.00,78.81 196.50,78.91 C197.00,79.02 197.50,78.80 198.00,78.77 C198.50,78.75 199.00,78.68 199.50,78.78 C200.00,78.88 200.50,79.23 201.00,79.37 C201.50,79.52 202.00,79.60 202.50,79.66 C203.00,79.72 203.50,79.62 204.00,79.75 C204.50,79.88 205.00,80.30 205.50,80.45 C206.00,80.60 206.50,80.56 207.00,80.64 C207.50,80.72 208.00,80.88 208.50,80.91 C209.00,80.94 209.50,80.78 210.00,80.84 C210.50,80.90 211.00,81.12 211.50,81.30 C212.00,81.48 212.50,81.81 213.00,81.93 C213.50,82.05 214.00,82.02 214.50,82.03 C215.00,82.04 215.50,81.89 216.00,81.99 C216.50,82.09 217.00,82.47 217.50,82.64 C218.00,82.80 218.50,82.87 219.00,82.97 C219.50,83.07 220.00,83.13 220.50,83.23 C221.00,83.33 221.50,83.42 222.00,83.55 C222.50,83.69 223.00,83.93 223.50,84.04 C224.00,84.15 224.50,84.18 225.00,84.21 C225.50,84.23 226.00,84.11 226.50,84.17 C227.00,84.24 227.50,84.41 228.00,84.58 C228.50,84.75 229.17,85.11 229.50,85.18 C229.83,85.25 229.75,84.96 230.00,85.00 C230.25,85.04 230.58,85.31 231.00,85.41 C231.42,85.52 232.00,85.51 232.50,85.65 C233.00,85.78 233.50,86.03 234.00,86.22 C234.50,86.41 235.00,86.63 235.50,86.78 C236.00,86.93 236.50,87.02 237.00,87.10 C237.50,87.18 238.00,87.14 238.50,87.28 C239.00,87.41 239.50,87.75 240.00,87.90 C240.50,88.05 241.00,88.17 241.50,88.18 C242.00,88.19 242.50,87.93 243.00,87.98 C243.50,88.03 244.00,88.29 244.50,88.48 C245.00,88.67 245.50,88.97 246.00,89.10 C246.50,89.23 247.00,89.24 247.50,89.26 C248.00,89.29 248.50,89.24 249.00,89.25 C249.50,89.25 250.00,89.20 250.50,89.31 C251.00,89.42 251.50,89.79 252.00,89.92 C252.50,90.04 253.00,90.05 253.50,90.03 C254.00,90.00 254.50,89.55 255.00,89.77 C255.50,89.98 256.00,91.16 256.50,91.30 C257.00,91.44 257.50,90.78 258.00,90.60 C258.50,90.43 259.17,90.19 259.50,90.26 C259.83,90.33 259.75,90.93 260.00,91.00 C260.25,91.07 260.58,90.47 261.00,90.68 C261.42,90.89 262.00,91.87 262.50,92.27 C263.00,92.67 263.50,93.14 264.00,93.08 C264.50,93.03 265.00,92.04 265.50,91.93 C266.00,91.82 266.50,92.26 267.00,92.43 C267.50,92.60 268.00,92.81 268.50,92.95 C269.00,93.10 269.50,93.25 270.00,93.30 C270.50,93.35 271.00,93.23 271.50,93.27 C272.00,93.31 272.50,93.36 273.00,93.55 C273.50,93.73 274.00,94.39 274.50,94.38 C275.00,94.37 275.50,93.59 276.00,93.49 C276.50,93.39 277.00,93.63 277.50,93.78 C278.00,93.94 278.58,94.32 279.00,94.44 C279.42,94.55 279.75,94.34 280.00,94.50 C280.25,94.66 280.17,95.28 280.50,95.37 C280.83,95.46 281.50,95.28 282.00,95.04 C282.50,94.80 283.00,93.85 283.50,93.93 C284.00,94.02 284.58,95.31 285.00,95.57 C285.42,95.83 285.75,95.44 286.00,95.50 C286.25,95.56 286.17,95.96 286.50,95.95 C286.83,95.93 287.67,95.52 288.00,95.41 C288.33,95.30 288.20,95.79 288.50,95.30 C288.80,94.81 289.58,92.97 289.80,92.50" fill="none" stroke="#f20a0a" stroke-width="1.90" stroke-linejoin="round" stroke-linecap="round"/>
<path d="M89.40,345.20 C89.53,344.48 89.87,341.75 90.20,340.90 C90.53,340.05 91.02,339.45 91.40,340.10 C91.78,340.75 92.12,344.35 92.50,344.80 C92.88,345.25 93.05,344.03 93.70,342.80 C94.35,341.57 95.43,336.95 96.40,337.40 C97.37,337.85 98.40,346.15 99.50,345.50 C100.60,344.85 102.10,335.10 103.00,333.50 C103.90,331.90 104.07,334.22 104.90,335.90 C105.73,337.58 107.03,342.83 108.00,343.60 C108.97,344.37 109.30,342.73 110.70,340.50 C112.10,338.27 114.28,330.25 116.40,330.20 C118.52,330.15 121.20,340.20 123.40,340.20 C125.60,340.20 127.47,330.70 129.60,330.20 C131.73,329.70 133.87,337.60 136.20,337.20 C138.53,336.80 141.30,328.50 143.60,327.80 C145.90,327.10 147.85,333.30 150.00,333.00 C152.15,332.70 154.25,326.45 156.50,326.00 C158.75,325.55 160.98,330.93 163.50,330.30 C166.02,329.67 169.35,323.10 171.60,322.20 C173.85,321.30 174.88,325.50 177.00,324.90 C179.12,324.30 182.03,319.35 184.30,318.60 C186.57,317.85 188.48,321.17 190.60,320.40 C192.72,319.63 194.88,314.90 197.00,314.00 C199.12,313.10 201.13,315.60 203.30,315.00 C205.47,314.40 208.63,311.23 210.00,310.40 C211.37,309.57 211.00,310.22 211.50,310.01 C212.00,309.81 212.50,309.45 213.00,309.15 C213.50,308.86 214.00,308.44 214.50,308.25 C215.00,308.05 215.50,308.09 216.00,308.00 C216.50,307.91 217.00,307.91 217.50,307.70 C218.00,307.49 218.50,307.03 219.00,306.73 C219.50,306.44 220.00,306.14 220.50,305.94 C221.00,305.74 221.50,305.70 222.00,305.53 C222.50,305.37 223.00,305.16 223.50,304.93 C224.00,304.69 224.50,304.32 225.00,304.14 C225.50,303.95 226.00,303.94 226.50,303.82 C227.00,303.71 227.70,303.59 228.00,303.45 C228.30,303.32 228.05,303.18 228.30,303.00 C228.55,302.82 229.05,302.66 229.50,302.40 C229.95,302.13 230.50,301.66 231.00,301.40 C231.50,301.15 232.00,301.03 232.50,300.86 C233.00,300.70 233.50,300.67 234.00,300.41 C234.50,300.16 235.00,299.64 235.50,299.32 C236.00,299.01 236.50,298.78 237.00,298.53 C237.50,298.27 238.00,298.03 238.50,297.81 C239.00,297.58 239.50,297.38 240.00,297.16 C240.50,296.94 241.00,296.75 241.50,296.49 C242.00,296.23 242.50,295.81 243.00,295.60 C243.50,295.39 244.00,295.48 244.50,295.24 C245.00,295.01 245.50,294.53 246.00,294.19 C246.50,293.85 247.00,293.46 247.50,293.20 C248.00,292.95 248.50,292.82 249.00,292.64 C249.50,292.45 250.08,292.29 250.50,292.08 C250.92,291.87 251.25,291.51 251.50,291.40 C251.75,291.29 251.67,291.57 252.00,291.42 C252.33,291.28 253.00,290.73 253.50,290.53 C254.00,290.34 254.50,290.36 255.00,290.26 C255.50,290.16 256.00,290.07 256.50,289.91 C257.00,289.76 257.50,289.49 258.00,289.33 C258.50,289.17 259.00,289.09 259.50,288.97 C260.00,288.85 260.50,288.74 261.00,288.61 C261.50,288.48 262.00,288.36 262.50,288.19 C263.00,288.02 263.50,287.73 264.00,287.59 C264.50,287.45 265.00,287.41 265.50,287.33 C266.00,287.25 266.50,287.23 267.00,287.08 C267.50,286.94 268.00,286.68 268.50,286.45 C269.00,286.23 269.50,285.93 270.00,285.73 C270.50,285.53 271.00,285.35 271.50,285.25 C272.00,285.14 272.50,285.18 273.00,285.09 C273.50,285.01 274.17,284.82 274.50,284.72 C274.83,284.62 274.75,284.61 275.00,284.50 C275.25,284.39 275.58,284.22 276.00,284.03 C276.42,283.84 277.00,283.54 277.50,283.33 C278.00,283.13 278.50,283.05 279.00,282.79 C279.50,282.53 280.00,282.07 280.50,281.79 C281.00,281.52 281.50,281.32 282.00,281.15 C282.50,280.98 283.00,280.97 283.50,280.78 C284.00,280.58 284.50,280.32 285.00,280.00 C285.50,279.68 286.00,279.25 286.50,278.88 C287.00,278.52 287.50,278.07 288.00,277.82 C288.50,277.56 289.17,277.50 289.50,277.35 C289.83,277.20 289.75,276.97 290.00,276.90 C290.25,276.83 290.58,277.07 291.00,276.95 C291.42,276.82 292.00,276.34 292.50,276.16 C293.00,275.97 293.58,275.96 294.00,275.85 C294.42,275.74 294.75,275.48 295.00,275.50 C295.25,275.52 295.17,276.17 295.50,275.97 C295.83,275.77 296.50,274.71 297.00,274.29 C297.50,273.88 298.00,273.53 298.50,273.49 C299.00,273.44 299.50,273.89 300.00,274.00 C300.50,274.11 301.00,274.48 301.50,274.16 C302.00,273.84 302.50,272.50 303.00,272.09 C303.50,271.68 304.00,271.71 304.50,271.70 C305.00,271.68 305.50,272.01 306.00,272.00 C306.50,271.98 307.00,271.88 307.50,271.61 C308.00,271.33 308.50,270.62 309.00,270.33 C309.50,270.05 310.10,270.02 310.50,269.90 C310.90,269.78 311.15,269.57 311.40,269.60 C311.65,269.63 311.65,270.15 312.00,270.07 C312.35,269.99 313.00,269.36 313.50,269.11 C314.00,268.86 314.50,268.66 315.00,268.56 C315.50,268.47 316.00,268.47 316.50,268.56 C317.00,268.65 317.50,269.17 318.00,269.09 C318.50,269.01 319.00,268.45 319.50,268.06 C320.00,267.68 320.50,266.95 321.00,266.79 C321.50,266.64 322.00,266.95 322.50,267.11 C323.00,267.27 323.50,267.80 324.00,267.75 C324.50,267.70 325.00,267.05 325.50,266.81 C326.00,266.56 326.50,266.37 327.00,266.30 C327.50,266.23 328.00,266.53 328.50,266.41 C329.00,266.29 329.50,265.85 330.00,265.58 C330.50,265.32 331.00,264.91 331.50,264.81 C332.00,264.72 332.50,264.89 333.00,265.02 C333.50,265.16 334.00,265.72 334.50,265.62 C335.00,265.52 335.50,264.72 336.00,264.45 C336.50,264.18 337.20,264.01 337.50,263.99 C337.80,263.96 337.55,264.27 337.80,264.30 C338.05,264.33 338.55,264.20 339.00,264.16 C339.45,264.13 340.00,264.30 340.50,264.10 C341.00,263.89 341.50,263.18 342.00,262.94 C342.50,262.70 343.00,262.78 343.50,262.66 C344.00,262.55 344.50,262.37 345.00,262.24 C345.50,262.11 346.00,262.12 346.50,261.87 C347.00,261.63 347.50,260.89 348.00,260.75 C348.50,260.61 349.17,261.01 349.50,261.05 C349.83,261.09 349.75,261.07 350.00,261.00 C350.25,260.93 350.58,260.91 351.00,260.61 C351.42,260.31 352.00,259.79 352.50,259.21 C353.00,258.63 353.50,257.60 354.00,257.15 C354.50,256.71 355.13,256.68 355.50,256.55 C355.87,256.43 356.08,256.43 356.20,256.40" fill="none" stroke="#1212c8" stroke-width="1.90" stroke-linejoin="round" stroke-linecap="round"/>
<path d="M361.50,259.00 C361.75,258.75 362.50,257.68 363.00,257.48 C363.50,257.29 364.17,257.84 364.50,257.84 C364.83,257.84 364.75,257.58 365.00,257.50 C365.25,257.42 365.58,257.49 366.00,257.39 C366.42,257.29 367.00,257.04 367.50,256.92 C368.00,256.81 368.68,256.78 369.00,256.69 C369.32,256.60 369.15,256.34 369.40,256.40 C369.65,256.46 370.07,256.81 370.50,257.02 C370.93,257.23 371.58,257.49 372.00,257.65 C372.42,257.81 372.75,258.10 373.00,258.00 C373.25,257.90 373.17,257.11 373.50,257.04 C373.83,256.98 374.50,257.44 375.00,257.62 C375.50,257.80 376.00,258.27 376.50,258.13 C377.00,257.99 377.58,257.07 378.00,256.78 C378.42,256.49 378.83,256.46 379.00,256.40" fill="none" stroke="#1212c8" stroke-width="1.90" stroke-linejoin="round" stroke-linecap="round"/>
<line x1="88.0" y1="346.0" x2="88.0" y2="352.0" stroke="#1212c8" stroke-width="1.60" stroke-dasharray="1.4 1.6"/>
<line x1="358.9" y1="226.0" x2="358.9" y2="244.0" stroke="#138a5c" stroke-width="1.60" stroke-dasharray="1.4 1.6"/>
<line x1="358.9" y1="244.0" x2="358.9" y2="259.0" stroke="#1212c8" stroke-width="1.60" stroke-dasharray="1.4 1.6"/>
<path d="M86.20,322.10 C86.50,321.92 87.13,321.85 88.00,321.00 C88.87,320.15 90.57,317.83 91.40,317.00 C92.23,316.17 92.25,317.03 93.00,316.00 C93.75,314.97 94.97,310.30 95.90,310.80 C96.83,311.30 97.92,318.28 98.60,319.00 C99.28,319.72 99.25,316.17 100.00,315.10 C100.75,314.03 101.98,312.17 103.10,312.60 C104.22,313.03 105.50,317.10 106.70,317.70 C107.90,318.30 108.83,318.08 110.30,316.20 C111.77,314.32 113.52,306.75 115.50,306.40 C117.48,306.05 120.13,314.10 122.20,314.10 C124.27,314.10 125.82,306.60 127.90,306.40 C129.98,306.20 132.15,313.23 134.70,312.90 C137.25,312.57 141.13,305.43 143.20,304.40 C145.27,303.37 144.90,307.22 147.10,306.70 C149.30,306.18 153.95,301.95 156.40,301.30 C158.85,300.65 159.48,303.50 161.80,302.80 C164.12,302.10 168.10,298.00 170.30,297.10 C172.50,296.20 172.93,298.12 175.00,297.40 C177.07,296.68 180.20,293.57 182.70,292.80 C185.20,292.03 188.53,292.93 190.00,292.80 C191.47,292.67 191.00,292.33 191.50,292.05 C192.00,291.76 192.50,291.25 193.00,291.09 C193.50,290.94 194.00,291.20 194.50,291.12 C195.00,291.03 195.50,290.82 196.00,290.57 C196.50,290.33 197.00,289.97 197.50,289.64 C198.00,289.31 198.50,288.83 199.00,288.59 C199.50,288.34 200.00,288.33 200.50,288.15 C201.00,287.98 201.50,287.76 202.00,287.54 C202.50,287.31 203.00,287.01 203.50,286.78 C204.00,286.55 204.50,286.30 205.00,286.15 C205.50,285.99 206.00,286.05 206.50,285.83 C207.00,285.62 207.50,285.13 208.00,284.85 C208.50,284.57 209.17,284.29 209.50,284.16 C209.83,284.04 209.75,284.16 210.00,284.10 C210.25,284.04 210.58,283.95 211.00,283.82 C211.42,283.69 212.00,283.56 212.50,283.31 C213.00,283.07 213.50,282.64 214.00,282.34 C214.50,282.04 215.00,281.74 215.50,281.52 C216.00,281.30 216.50,281.14 217.00,281.01 C217.50,280.88 218.00,280.94 218.50,280.75 C219.00,280.55 219.50,280.09 220.00,279.83 C220.50,279.57 221.00,279.34 221.50,279.19 C222.00,279.04 222.50,279.15 223.00,278.96 C223.50,278.76 224.00,278.31 224.50,278.04 C225.00,277.77 225.50,277.53 226.00,277.35 C226.50,277.17 227.12,277.11 227.50,276.97 C227.88,276.83 228.05,276.57 228.30,276.50 C228.55,276.43 228.63,276.70 229.00,276.53 C229.37,276.36 230.00,275.84 230.50,275.50 C231.00,275.16 231.50,274.72 232.00,274.46 C232.50,274.21 233.00,274.10 233.50,273.97 C234.00,273.84 234.50,273.88 235.00,273.69 C235.50,273.49 236.00,273.10 236.50,272.82 C237.00,272.54 237.50,272.23 238.00,271.99 C238.50,271.75 239.17,271.50 239.50,271.37 C239.83,271.24 239.75,271.29 240.00,271.20 C240.25,271.11 240.58,271.02 241.00,270.83 C241.42,270.64 242.00,270.27 242.50,270.06 C243.00,269.85 243.50,269.67 244.00,269.57 C244.50,269.46 245.00,269.57 245.50,269.44 C246.00,269.31 246.50,269.04 247.00,268.79 C247.50,268.54 248.00,268.14 248.50,267.92 C249.00,267.71 249.50,267.60 250.00,267.49 C250.50,267.38 251.00,267.40 251.50,267.28 C252.00,267.16 252.50,267.01 253.00,266.78 C253.50,266.55 254.00,266.14 254.50,265.92 C255.00,265.70 255.50,265.60 256.00,265.44 C256.50,265.28 257.00,265.20 257.50,264.99 C258.00,264.78 258.58,264.34 259.00,264.19 C259.42,264.04 259.75,264.16 260.00,264.10 C260.25,264.04 260.17,263.91 260.50,263.84 C260.83,263.77 261.50,263.80 262.00,263.68 C262.50,263.56 263.00,263.37 263.50,263.12 C264.00,262.87 264.50,262.38 265.00,262.17 C265.50,261.97 266.00,261.97 266.50,261.89 C267.00,261.81 267.50,261.80 268.00,261.70 C268.50,261.59 269.00,261.42 269.50,261.24 C270.00,261.05 270.50,260.75 271.00,260.58 C271.50,260.41 272.00,260.38 272.50,260.21 C273.00,260.04 273.50,259.77 274.00,259.55 C274.50,259.33 275.00,259.09 275.50,258.92 C276.00,258.74 276.50,258.57 277.00,258.49 C277.50,258.41 278.00,258.55 278.50,258.42 C279.00,258.29 279.50,257.94 280.00,257.70 C280.50,257.46 281.00,257.20 281.50,256.96 C282.00,256.71 282.50,256.42 283.00,256.24 C283.50,256.07 284.00,256.05 284.50,255.91 C285.00,255.77 285.58,255.57 286.00,255.40 C286.42,255.23 286.75,255.17 287.00,254.90 C287.25,254.63 287.17,254.57 287.50,253.76 C287.83,252.94 288.50,249.63 289.00,250.00 C289.50,250.37 290.00,255.21 290.50,256.00 C291.00,256.79 291.50,255.39 292.00,254.76 C292.50,254.13 293.00,252.80 293.50,252.22 C294.00,251.64 294.50,251.34 295.00,251.30 C295.50,251.26 296.00,252.21 296.50,252.00 C297.00,251.79 297.50,250.45 298.00,250.04 C298.50,249.64 299.00,249.58 299.50,249.57 C300.00,249.56 300.50,249.76 301.00,250.00 C301.50,250.23 302.00,251.06 302.50,250.98 C303.00,250.90 303.50,249.82 304.00,249.51 C304.50,249.20 305.00,249.06 305.50,249.12 C306.00,249.19 306.50,249.95 307.00,249.89 C307.50,249.82 308.00,249.00 308.50,248.71 C309.00,248.42 309.52,248.19 310.00,248.16 C310.48,248.12 311.15,248.46 311.40,248.50 C311.65,248.54 311.23,248.39 311.50,248.42 C311.77,248.45 312.50,248.87 313.00,248.69 C313.50,248.51 314.00,247.95 314.50,247.35 C315.00,246.75 315.50,245.33 316.00,245.07 C316.50,244.82 317.00,245.76 317.50,245.83 C318.00,245.89 318.58,245.74 319.00,245.46 C319.42,245.19 319.75,244.40 320.00,244.20 C320.25,244.00 320.17,244.38 320.50,244.29 C320.83,244.19 321.50,243.72 322.00,243.62 C322.50,243.53 323.00,243.70 323.50,243.72 C324.00,243.74 324.50,243.95 325.00,243.74 C325.50,243.52 326.00,242.65 326.50,242.42 C327.00,242.20 327.50,242.17 328.00,242.36 C328.50,242.56 329.00,243.62 329.50,243.60 C330.00,243.57 330.50,242.65 331.00,242.20 C331.50,241.75 332.00,240.98 332.50,240.91 C333.00,240.83 333.58,241.57 334.00,241.74 C334.42,241.90 334.75,241.72 335.00,241.90 C335.25,242.08 335.17,242.77 335.50,242.81 C335.83,242.85 336.50,242.53 337.00,242.13 C337.50,241.73 338.00,240.75 338.50,240.41 C339.00,240.07 339.50,240.22 340.00,240.09 C340.50,239.96 341.00,239.87 341.50,239.64 C342.00,239.41 342.50,238.95 343.00,238.69 C343.50,238.44 344.17,238.17 344.50,238.12 C344.83,238.07 344.75,238.32 345.00,238.40 C345.25,238.48 345.58,238.59 346.00,238.62 C346.42,238.65 347.00,238.82 347.50,238.57 C348.00,238.32 348.50,237.41 349.00,237.12 C349.50,236.83 350.00,236.59 350.50,236.84 C351.00,237.09 351.50,238.41 352.00,238.62 C352.50,238.82 353.00,238.31 353.50,238.08 C354.00,237.84 354.50,237.67 355.00,237.20 C355.50,236.73 356.08,235.65 356.50,235.26 C356.92,234.88 357.33,234.96 357.50,234.90" fill="none" stroke="#138a5c" stroke-width="1.90" stroke-linejoin="round" stroke-linecap="round"/>
<path d="M360.00,225.00 C360.33,225.87 361.17,229.33 362.00,230.20 C362.83,231.07 364.00,230.73 365.00,230.20 C366.00,229.67 367.17,227.18 368.00,227.00 C368.83,226.82 369.33,228.57 370.00,229.10 C370.67,229.63 371.67,230.02 372.00,230.20" fill="none" stroke="#138a5c" stroke-width="1.90" stroke-linejoin="round" stroke-linecap="round"/>
<path d="M87.30,298.40 C87.82,298.92 89.37,301.67 90.40,301.50 C91.43,301.33 92.98,298.08 93.50,297.40" fill="none" stroke="#38f50a" stroke-width="1.90" stroke-linejoin="round" stroke-linecap="round"/>
<path d="M93.50,297.40 C93.75,296.67 94.60,294.38 95.00,293.00 C95.40,291.62 95.57,288.60 95.90,289.10 C96.23,289.60 96.55,294.45 97.00,296.00 C97.45,297.55 98.33,298.00 98.60,298.40" fill="none" stroke="#38f50a" stroke-width="1.70" stroke-dasharray="1.5 1.3"/>
<path d="M98.60,298.40 C98.83,298.00 99.25,296.83 100.00,296.00 C100.75,295.17 102.07,293.05 103.10,293.40 C104.13,293.75 105.33,297.58 106.20,298.10 C107.07,298.62 107.62,296.68 108.30,296.50 C108.98,296.32 109.10,298.45 110.30,297.00 C111.50,295.55 113.68,288.22 115.50,287.80 C117.32,287.38 119.13,294.50 121.20,294.50 C123.27,294.50 126.43,288.73 127.90,287.80 C129.37,286.87 128.98,288.20 130.00,288.90 C131.02,289.60 132.33,292.35 134.00,292.00 C135.67,291.65 138.75,287.76 140.00,286.80 C141.25,285.84 141.00,286.35 141.50,286.24 C142.00,286.13 142.50,286.24 143.00,286.16 C143.50,286.08 144.00,285.93 144.50,285.75 C145.00,285.57 145.50,285.33 146.00,285.10 C146.50,284.87 147.00,284.48 147.50,284.36 C148.00,284.24 148.50,284.42 149.00,284.40 C149.50,284.37 150.00,284.36 150.50,284.21 C151.00,284.06 151.50,283.68 152.00,283.50 C152.50,283.31 153.00,283.26 153.50,283.12 C154.00,282.98 154.50,282.82 155.00,282.66 C155.50,282.50 156.00,282.35 156.50,282.18 C157.00,282.01 157.50,281.77 158.00,281.65 C158.50,281.52 159.17,281.48 159.50,281.42 C159.83,281.37 159.75,281.35 160.00,281.30 C160.25,281.25 160.58,281.26 161.00,281.13 C161.42,281.00 162.00,280.73 162.50,280.51 C163.00,280.30 163.50,279.94 164.00,279.82 C164.50,279.71 165.00,279.83 165.50,279.81 C166.00,279.80 166.50,279.86 167.00,279.74 C167.50,279.61 168.00,279.29 168.50,279.09 C169.00,278.88 169.50,278.65 170.00,278.50 C170.50,278.35 171.00,278.32 171.50,278.16 C172.00,278.01 172.50,277.75 173.00,277.56 C173.50,277.36 174.00,277.10 174.50,276.98 C175.00,276.87 175.50,276.97 176.00,276.87 C176.50,276.78 177.00,276.57 177.50,276.41 C178.00,276.24 178.58,276.03 179.00,275.88 C179.42,275.73 179.75,275.66 180.00,275.50 C180.25,275.34 180.17,275.07 180.50,274.95 C180.83,274.82 181.50,274.82 182.00,274.75 C182.50,274.69 183.00,274.70 183.50,274.57 C184.00,274.44 184.50,274.22 185.00,273.99 C185.50,273.76 186.00,273.37 186.50,273.18 C187.00,272.98 187.50,272.99 188.00,272.83 C188.50,272.67 189.00,272.44 189.50,272.22 C190.00,272.01 190.50,271.71 191.00,271.56 C191.50,271.40 192.00,271.40 192.50,271.30 C193.00,271.19 193.50,271.09 194.00,270.92 C194.50,270.75 195.00,270.55 195.50,270.26 C196.00,269.98 196.50,269.45 197.00,269.22 C197.50,268.99 198.00,268.97 198.50,268.87 C199.00,268.77 199.50,268.73 200.00,268.60 C200.50,268.47 201.00,268.33 201.50,268.09 C202.00,267.85 202.50,267.40 203.00,267.15 C203.50,266.90 204.00,266.75 204.50,266.61 C205.00,266.47 205.50,266.48 206.00,266.31 C206.50,266.14 207.00,265.86 207.50,265.60 C208.00,265.35 208.50,264.98 209.00,264.78 C209.50,264.57 210.00,264.54 210.50,264.36 C211.00,264.17 211.50,263.95 212.00,263.68 C212.50,263.41 213.00,262.93 213.50,262.71 C214.00,262.49 214.50,262.47 215.00,262.36 C215.50,262.24 216.00,262.15 216.50,262.02 C217.00,261.89 217.50,261.85 218.00,261.57 C218.50,261.28 219.00,260.59 219.50,260.31 C220.00,260.03 220.50,260.04 221.00,259.88 C221.50,259.71 222.00,259.50 222.50,259.33 C223.00,259.16 223.50,259.08 224.00,258.87 C224.50,258.65 225.00,258.25 225.50,258.04 C226.00,257.83 226.53,257.76 227.00,257.59 C227.47,257.41 228.05,257.08 228.30,257.00 C228.55,256.92 228.22,257.21 228.50,257.09 C228.78,256.97 229.50,256.57 230.00,256.29 C230.50,256.02 231.00,255.61 231.50,255.45 C232.00,255.30 232.50,255.42 233.00,255.36 C233.50,255.30 234.00,255.31 234.50,255.09 C235.00,254.87 235.50,254.34 236.00,254.04 C236.50,253.74 237.00,253.44 237.50,253.31 C238.00,253.18 238.58,253.36 239.00,253.26 C239.42,253.16 239.75,252.78 240.00,252.70 C240.25,252.62 240.17,252.86 240.50,252.76 C240.83,252.67 241.50,252.27 242.00,252.11 C242.50,251.96 243.00,251.93 243.50,251.83 C244.00,251.72 244.50,251.61 245.00,251.48 C245.50,251.35 246.00,251.19 246.50,251.04 C247.00,250.89 247.50,250.66 248.00,250.58 C248.50,250.50 249.00,250.60 249.50,250.57 C250.00,250.53 250.50,250.52 251.00,250.35 C251.50,250.17 252.00,249.76 252.50,249.54 C253.00,249.31 253.50,249.09 254.00,248.99 C254.50,248.89 255.00,248.99 255.50,248.94 C256.00,248.90 256.50,248.86 257.00,248.72 C257.50,248.58 258.00,248.25 258.50,248.10 C259.00,247.95 259.50,247.89 260.00,247.80 C260.50,247.71 261.00,247.70 261.50,247.53 C262.00,247.37 262.50,247.02 263.00,246.82 C263.50,246.63 264.00,246.44 264.50,246.35 C265.00,246.26 265.50,246.36 266.00,246.28 C266.50,246.20 267.00,246.03 267.50,245.88 C268.00,245.73 268.50,245.58 269.00,245.38 C269.50,245.17 270.00,244.83 270.50,244.65 C271.00,244.47 271.50,244.41 272.00,244.30 C272.50,244.18 273.00,244.11 273.50,243.97 C274.00,243.84 274.50,243.61 275.00,243.50 C275.50,243.39 276.00,243.38 276.50,243.33 C277.00,243.29 277.50,243.31 278.00,243.23 C278.50,243.16 279.17,242.95 279.50,242.88 C279.83,242.81 279.75,242.94 280.00,242.80 C280.25,242.66 280.58,242.31 281.00,242.06 C281.42,241.82 282.00,241.58 282.50,241.34 C283.00,241.09 283.50,240.93 284.00,240.60 C284.50,240.27 285.00,239.80 285.50,239.36 C286.00,238.93 286.50,238.34 287.00,237.97 C287.50,237.60 288.00,237.39 288.50,237.13 C289.00,236.87 289.50,236.48 290.00,236.40 C290.50,236.32 291.00,236.80 291.50,236.65 C292.00,236.49 292.50,235.53 293.00,235.48 C293.50,235.42 294.00,236.36 294.50,236.34 C295.00,236.32 295.50,235.75 296.00,235.38 C296.50,235.00 297.00,234.15 297.50,234.08 C298.00,234.01 298.58,234.83 299.00,234.97 C299.42,235.10 299.75,234.86 300.00,234.90 C300.25,234.94 300.17,235.41 300.50,235.18 C300.83,234.95 301.50,234.03 302.00,233.53 C302.50,233.03 303.00,232.54 303.50,232.19 C304.00,231.83 304.50,231.50 305.00,231.40 C305.50,231.30 306.00,231.64 306.50,231.60 C307.00,231.56 307.50,231.26 308.00,231.16 C308.50,231.05 309.00,231.07 309.50,230.97 C310.00,230.87 310.50,230.54 311.00,230.56 C311.50,230.58 312.00,231.31 312.50,231.10 C313.00,230.89 313.58,229.46 314.00,229.31 C314.42,229.16 314.75,230.10 315.00,230.20 C315.25,230.30 315.17,229.77 315.50,229.92 C315.83,230.08 316.50,231.12 317.00,231.15 C317.50,231.18 318.00,230.50 318.50,230.10 C319.00,229.71 319.50,228.95 320.00,228.79 C320.50,228.62 321.00,228.96 321.50,229.11 C322.00,229.27 322.50,229.65 323.00,229.73 C323.50,229.80 324.17,229.66 324.50,229.56 C324.83,229.45 324.75,229.34 325.00,229.10 C325.25,228.86 325.58,228.28 326.00,228.11 C326.42,227.95 327.00,227.98 327.50,228.12 C328.00,228.27 328.50,229.03 329.00,228.99 C329.50,228.95 330.00,228.23 330.50,227.87 C331.00,227.51 331.50,226.82 332.00,226.82 C332.50,226.83 333.00,227.94 333.50,227.92 C334.00,227.90 334.50,227.15 335.00,226.70 C335.50,226.25 336.00,225.46 336.50,225.22 C337.00,224.98 337.50,225.19 338.00,225.25 C338.50,225.32 339.00,225.53 339.50,225.59 C340.00,225.65 340.50,225.78 341.00,225.59 C341.50,225.40 342.00,224.84 342.50,224.44 C343.00,224.04 343.58,223.37 344.00,223.18 C344.42,222.99 344.75,223.23 345.00,223.30 C345.25,223.37 345.17,223.82 345.50,223.62 C345.83,223.43 346.58,222.39 347.00,222.12 C347.42,221.85 347.75,222.31 348.00,222.00 C348.25,221.69 348.17,220.81 348.50,220.24 C348.83,219.67 349.50,217.76 350.00,218.60 C350.50,219.44 351.17,223.95 351.50,225.30 C351.83,226.65 351.75,226.40 352.00,226.70 C352.25,227.00 352.50,226.87 353.00,227.07 C353.50,227.27 354.67,227.76 355.00,227.90" fill="none" stroke="#38f50a" stroke-width="1.90" stroke-linejoin="round" stroke-linecap="round"/>
<path d="M85.80,267.50 C86.00,267.75 86.58,268.50 87.00,269.00 C87.42,269.50 88.08,270.25 88.30,270.50" fill="none" stroke="#ff5a0a" stroke-width="1.70" stroke-dasharray="1.5 1.3"/>
<path d="M88.30,270.50 C88.65,271.18 89.70,274.68 90.40,274.60 C91.10,274.52 91.82,271.37 92.50,270.00 C93.18,268.63 93.93,267.87 94.50,266.40 C95.07,264.93 95.38,260.52 95.90,261.20 C96.42,261.88 96.80,269.47 97.60,270.50 C98.40,271.53 99.67,267.57 100.70,267.40 C101.73,267.23 102.75,269.27 103.80,269.50 C104.85,269.73 105.97,268.98 107.00,268.80 C108.03,268.62 108.65,269.32 110.00,268.40 C111.35,267.48 113.38,263.47 115.10,263.30 C116.82,263.13 118.15,267.23 120.30,267.40 C122.45,267.57 125.87,264.40 128.00,264.30 C130.13,264.20 131.05,267.18 133.10,266.80 C135.15,266.42 137.37,263.32 140.30,262.00 C143.23,260.68 148.77,259.41 150.70,258.90 C152.63,258.39 151.45,258.96 151.90,258.94 C152.35,258.92 152.90,258.88 153.40,258.77 C153.90,258.67 154.40,258.32 154.90,258.33 C155.40,258.33 155.90,258.71 156.40,258.82 C156.90,258.93 157.40,259.02 157.90,258.99 C158.40,258.96 159.05,258.72 159.40,258.64 C159.75,258.56 159.75,258.59 160.00,258.50 C160.25,258.41 160.50,258.17 160.90,258.11 C161.30,258.04 161.90,258.16 162.40,258.10 C162.90,258.03 163.40,257.84 163.90,257.72 C164.40,257.60 164.90,257.50 165.40,257.40 C165.90,257.29 166.40,257.15 166.90,257.08 C167.40,257.01 167.90,257.07 168.40,257.00 C168.90,256.93 169.40,256.85 169.90,256.66 C170.40,256.47 170.90,255.97 171.40,255.85 C171.90,255.73 172.40,255.93 172.90,255.95 C173.40,255.98 173.90,256.10 174.40,255.99 C174.90,255.88 175.40,255.46 175.90,255.29 C176.40,255.12 176.90,255.08 177.40,254.97 C177.90,254.86 178.47,254.70 178.90,254.62 C179.33,254.54 179.75,254.53 180.00,254.50 C180.25,254.47 180.08,254.59 180.40,254.45 C180.72,254.31 181.40,253.86 181.90,253.63 C182.40,253.40 182.90,253.21 183.40,253.07 C183.90,252.92 184.40,252.96 184.90,252.75 C185.40,252.55 185.90,252.12 186.40,251.83 C186.90,251.55 187.40,251.25 187.90,251.03 C188.40,250.82 188.90,250.68 189.40,250.56 C189.90,250.45 190.47,250.52 190.90,250.34 C191.33,250.16 191.75,249.62 192.00,249.50 C192.25,249.38 192.08,249.74 192.40,249.60 C192.72,249.47 193.40,248.93 193.90,248.70 C194.40,248.48 194.90,248.37 195.40,248.27 C195.90,248.16 196.40,248.19 196.90,248.07 C197.40,247.95 197.90,247.69 198.40,247.54 C198.90,247.39 199.40,247.27 199.90,247.15 C200.40,247.04 200.90,247.00 201.40,246.84 C201.90,246.67 202.40,246.40 202.90,246.16 C203.40,245.93 203.90,245.63 204.40,245.43 C204.90,245.23 205.40,244.99 205.90,244.94 C206.40,244.90 206.90,245.24 207.40,245.15 C207.90,245.07 208.47,244.61 208.90,244.42 C209.33,244.22 209.75,244.12 210.00,244.00 C210.25,243.88 210.08,243.83 210.40,243.67 C210.72,243.52 211.40,243.21 211.90,243.08 C212.40,242.95 212.90,242.95 213.40,242.87 C213.90,242.80 214.40,242.80 214.90,242.62 C215.40,242.45 215.90,242.01 216.40,241.82 C216.90,241.64 217.40,241.62 217.90,241.50 C218.40,241.39 218.90,241.34 219.40,241.13 C219.90,240.93 220.40,240.50 220.90,240.28 C221.40,240.07 221.90,239.93 222.40,239.84 C222.90,239.74 223.40,239.79 223.90,239.70 C224.40,239.60 224.90,239.47 225.40,239.25 C225.90,239.03 226.42,238.58 226.90,238.37 C227.38,238.16 228.05,238.09 228.30,238.00 C228.55,237.91 228.13,237.92 228.40,237.85 C228.67,237.77 229.40,237.69 229.90,237.54 C230.40,237.40 230.90,237.18 231.40,237.00 C231.90,236.83 232.40,236.65 232.90,236.48 C233.40,236.31 233.90,236.12 234.40,235.97 C234.90,235.83 235.40,235.80 235.90,235.60 C236.40,235.40 236.90,235.04 237.40,234.78 C237.90,234.53 238.40,234.22 238.90,234.06 C239.40,233.91 239.90,233.91 240.40,233.83 C240.90,233.75 241.40,233.79 241.90,233.58 C242.40,233.37 242.90,232.84 243.40,232.58 C243.90,232.32 244.40,232.15 244.90,232.01 C245.40,231.87 245.90,231.83 246.40,231.74 C246.90,231.65 247.40,231.65 247.90,231.45 C248.40,231.25 248.90,230.76 249.40,230.54 C249.90,230.31 250.55,230.20 250.90,230.09 C251.25,229.98 251.25,229.96 251.50,229.90 C251.75,229.84 252.00,229.86 252.40,229.74 C252.80,229.62 253.40,229.38 253.90,229.17 C254.40,228.97 254.90,228.66 255.40,228.49 C255.90,228.32 256.40,228.19 256.90,228.16 C257.40,228.12 257.90,228.36 258.40,228.26 C258.90,228.15 259.40,227.96 259.90,227.53 C260.40,227.09 260.90,225.80 261.40,225.66 C261.90,225.52 262.40,226.51 262.90,226.69 C263.40,226.87 263.90,226.99 264.40,226.74 C264.90,226.49 265.40,225.49 265.90,225.20 C266.40,224.91 266.90,225.11 267.40,225.02 C267.90,224.93 268.40,224.81 268.90,224.66 C269.40,224.51 269.90,224.45 270.40,224.13 C270.90,223.81 271.40,222.83 271.90,222.74 C272.40,222.65 272.92,223.55 273.40,223.58 C273.88,223.61 274.55,222.84 274.80,222.90 C275.05,222.96 274.63,223.95 274.90,223.95 C275.17,223.95 275.90,223.22 276.40,222.91 C276.90,222.60 277.40,222.18 277.90,222.09 C278.40,222.01 278.90,222.07 279.40,222.39 C279.90,222.71 280.40,223.92 280.90,224.01 C281.40,224.10 281.90,223.12 282.40,222.92 C282.90,222.71 283.62,222.80 283.90,222.80 C284.18,222.80 283.85,222.93 284.10,222.90 C284.35,222.87 284.93,222.76 285.40,222.63 C285.87,222.50 286.63,222.29 286.90,222.10 C287.17,221.91 286.75,222.13 287.00,221.50 C287.25,220.87 288.07,218.90 288.40,218.31 C288.73,217.73 288.90,218.05 289.00,218.00" fill="none" stroke="#ff5a0a" stroke-width="1.90" stroke-linejoin="round" stroke-linecap="round"/>
<path d="M290.50,221.50 C290.75,221.38 291.58,220.95 292.00,220.79 C292.42,220.62 292.75,220.59 293.00,220.50 C293.25,220.41 293.17,220.35 293.50,220.22 C293.83,220.08 294.50,219.79 295.00,219.70 C295.50,219.61 296.00,219.89 296.50,219.65 C297.00,219.41 297.50,218.47 298.00,218.24 C298.50,218.02 299.17,218.33 299.50,218.32 C299.83,218.32 299.75,218.31 300.00,218.20 C300.25,218.09 300.58,218.13 301.00,217.64 C301.42,217.15 302.17,215.96 302.50,215.27 C302.83,214.58 302.75,213.61 303.00,213.50 C303.25,213.39 303.67,214.09 304.00,214.61 C304.33,215.12 304.75,216.37 305.00,216.60 C305.25,216.83 305.17,215.97 305.50,215.97 C305.83,215.97 306.50,216.59 307.00,216.60 C307.50,216.61 308.00,216.29 308.50,216.02 C309.00,215.76 309.50,215.15 310.00,215.00 C310.50,214.85 311.00,215.16 311.50,215.11 C312.00,215.06 312.50,215.14 313.00,214.69 C313.50,214.24 314.17,212.63 314.50,212.43 C314.83,212.23 314.75,213.33 315.00,213.50 C315.25,213.67 315.58,213.22 316.00,213.48 C316.42,213.74 317.00,214.70 317.50,215.07 C318.00,215.43 318.58,215.69 319.00,215.68 C319.42,215.67 319.75,215.32 320.00,215.00 C320.25,214.68 320.17,214.16 320.50,213.76 C320.83,213.37 321.50,212.91 322.00,212.63 C322.50,212.36 323.00,212.47 323.50,212.10 C324.00,211.73 324.50,210.34 325.00,210.40 C325.50,210.46 326.00,211.57 326.50,212.47 C327.00,213.37 327.42,215.38 328.00,215.80 C328.58,216.22 329.67,215.13 330.00,215.00" fill="none" stroke="#ff5a0a" stroke-width="1.90" stroke-linejoin="round" stroke-linecap="round"/>
<line x1="289.8" y1="216.0" x2="289.8" y2="226.0" stroke="#ff5a0a" stroke-width="1.60" stroke-dasharray="1.4 1.6"/>
<line x1="289.5" y1="248.5" x2="289.5" y2="256.0" stroke="#138a5c" stroke-width="1.60" stroke-dasharray="1.4 1.6"/>
<line x1="303.0" y1="243.5" x2="303.0" y2="248.5" stroke="#138a5c" stroke-width="1.60" stroke-dasharray="1.4 1.6"/>
<line x1="303.0" y1="268.0" x2="303.0" y2="273.5" stroke="#1212c8" stroke-width="1.60" stroke-dasharray="1.4 1.6"/>
<path d="M86.00,241.50 C86.25,241.75 87.00,241.92 87.50,243.00 C88.00,244.08 88.52,246.50 89.00,248.00 C89.48,249.50 89.98,252.33 90.40,252.00 C90.82,251.67 91.17,247.58 91.50,246.00 C91.83,244.42 92.25,243.08 92.40,242.50" fill="none" stroke="#f20a0a" stroke-width="1.70" stroke-dasharray="1.5 1.3"/>
<path d="M92.40,242.50 C92.67,242.08 93.48,241.20 94.00,240.00 C94.52,238.80 95.08,235.30 95.50,235.30 C95.92,235.30 96.15,238.45 96.50,240.00 C96.85,241.55 97.27,243.63 97.60,244.60 C97.93,245.57 98.10,246.07 98.50,245.80 C98.90,245.53 99.25,243.08 100.00,243.00 C100.75,242.92 102.00,245.30 103.00,245.30 C104.00,245.30 105.17,243.07 106.00,243.00 C106.83,242.93 107.33,244.90 108.00,244.90 C108.67,244.90 109.17,243.75 110.00,243.00 C110.83,242.25 112.00,240.40 113.00,240.40 C114.00,240.40 114.83,242.62 116.00,243.00 C117.17,243.38 118.67,242.70 120.00,242.70 C121.33,242.70 122.83,243.18 124.00,243.00 C125.17,242.82 126.00,241.65 127.00,241.60 C128.00,241.55 128.83,242.30 130.00,242.70 C131.17,243.10 132.33,244.23 134.00,244.00 C135.67,243.77 137.33,241.97 140.00,241.30 C142.67,240.63 148.08,240.33 150.00,240.00 C151.92,239.67 151.00,239.50 151.50,239.33 C152.00,239.16 152.50,239.09 153.00,238.98 C153.50,238.87 154.00,238.83 154.50,238.68 C155.00,238.52 155.50,238.23 156.00,238.03 C156.50,237.82 157.00,237.64 157.50,237.47 C158.00,237.30 158.50,237.13 159.00,236.99 C159.50,236.84 160.00,236.79 160.50,236.59 C161.00,236.40 161.50,236.03 162.00,235.81 C162.50,235.60 163.00,235.43 163.50,235.29 C164.00,235.16 164.50,235.08 165.00,235.00 C165.50,234.92 166.00,234.93 166.50,234.84 C167.00,234.74 167.50,234.63 168.00,234.42 C168.50,234.21 169.00,233.74 169.50,233.58 C170.00,233.43 170.70,233.49 171.00,233.47 C171.30,233.46 171.05,233.54 171.30,233.50 C171.55,233.46 172.05,233.31 172.50,233.23 C172.95,233.16 173.50,233.13 174.00,233.04 C174.50,232.96 175.00,232.80 175.50,232.73 C176.00,232.67 176.50,232.75 177.00,232.65 C177.50,232.54 178.00,232.26 178.50,232.10 C179.00,231.95 179.50,231.79 180.00,231.71 C180.50,231.64 181.00,231.68 181.50,231.66 C182.00,231.64 182.50,231.69 183.00,231.61 C183.50,231.53 184.00,231.33 184.50,231.16 C185.00,230.99 185.50,230.71 186.00,230.59 C186.50,230.46 187.00,230.44 187.50,230.43 C188.00,230.42 188.50,230.60 189.00,230.55 C189.50,230.49 190.00,230.22 190.50,230.10 C191.00,229.98 191.50,229.89 192.00,229.80 C192.50,229.71 193.00,229.69 193.50,229.56 C194.00,229.44 194.50,229.27 195.00,229.04 C195.50,228.81 196.00,228.36 196.50,228.18 C197.00,228.00 197.50,227.99 198.00,227.94 C198.50,227.88 199.00,227.97 199.50,227.85 C200.00,227.74 200.50,227.45 201.00,227.23 C201.50,227.01 202.00,226.74 202.50,226.54 C203.00,226.33 203.50,226.10 204.00,226.00 C204.50,225.90 205.00,226.03 205.50,225.93 C206.00,225.84 206.50,225.60 207.00,225.42 C207.50,225.23 208.00,225.00 208.50,224.84 C209.00,224.69 209.50,224.65 210.00,224.50 C210.50,224.35 211.00,224.11 211.50,223.93 C212.00,223.75 212.50,223.59 213.00,223.40 C213.50,223.22 214.00,222.91 214.50,222.83 C215.00,222.74 215.50,223.01 216.00,222.91 C216.50,222.81 217.00,222.49 217.50,222.23 C218.00,221.97 218.50,221.56 219.00,221.35 C219.50,221.13 220.00,221.06 220.50,220.96 C221.00,220.86 221.50,220.85 222.00,220.74 C222.50,220.62 223.00,220.41 223.50,220.26 C224.00,220.11 224.50,219.95 225.00,219.83 C225.50,219.70 226.00,219.65 226.50,219.50 C227.00,219.35 227.70,219.05 228.00,218.93 C228.30,218.82 228.05,218.89 228.30,218.80 C228.55,218.71 229.05,218.51 229.50,218.37 C229.95,218.23 230.50,218.03 231.00,217.97 C231.50,217.90 232.00,218.01 232.50,217.98 C233.00,217.94 233.50,217.94 234.00,217.75 C234.50,217.55 235.00,217.01 235.50,216.81 C236.00,216.61 236.50,216.62 237.00,216.56 C237.50,216.50 238.00,216.52 238.50,216.44 C239.00,216.37 239.50,216.29 240.00,216.11 C240.50,215.93 241.00,215.52 241.50,215.35 C242.00,215.17 242.50,215.17 243.00,215.07 C243.50,214.97 244.00,214.90 244.50,214.77 C245.00,214.64 245.50,214.40 246.00,214.28 C246.50,214.15 247.00,214.08 247.50,214.03 C248.00,213.99 248.50,214.04 249.00,213.99 C249.50,213.93 250.08,213.87 250.50,213.72 C250.92,213.57 251.25,213.26 251.50,213.10 C251.75,212.94 251.67,212.87 252.00,212.78 C252.33,212.68 253.00,212.51 253.50,212.52 C254.00,212.52 254.50,212.74 255.00,212.81 C255.50,212.88 256.00,213.06 256.50,212.93 C257.00,212.80 257.50,212.35 258.00,212.04 C258.50,211.74 259.03,211.23 259.50,211.11 C259.97,210.98 260.55,211.29 260.80,211.30 C261.05,211.31 260.72,211.30 261.00,211.15 C261.28,211.01 262.00,210.70 262.50,210.42 C263.00,210.15 263.50,209.68 264.00,209.50 C264.50,209.32 265.00,209.34 265.50,209.32 C266.00,209.30 266.62,209.64 267.00,209.39 C267.38,209.14 267.55,208.00 267.80,207.80 C268.05,207.60 268.13,207.97 268.50,208.16 C268.87,208.36 269.50,208.65 270.00,208.99 C270.50,209.34 271.10,209.83 271.50,210.22 C271.90,210.60 272.15,210.97 272.40,211.30 C272.65,211.63 272.65,212.20 273.00,212.18 C273.35,212.16 274.00,211.54 274.50,211.18 C275.00,210.82 275.57,210.19 276.00,210.01 C276.43,209.83 276.85,210.10 277.10,210.10 C277.35,210.10 277.18,209.91 277.50,209.99 C277.82,210.07 278.50,210.50 279.00,210.60 C279.50,210.70 280.05,210.48 280.50,210.60 C280.95,210.72 281.45,211.25 281.70,211.30 C281.95,211.35 281.70,211.15 282.00,210.93 C282.30,210.70 283.17,210.24 283.50,209.92 C283.83,209.60 283.75,209.42 284.00,209.00 C284.25,208.58 284.58,208.10 285.00,207.38 C285.42,206.66 286.17,205.18 286.50,204.70 C286.83,204.22 286.75,204.46 287.00,204.50 C287.25,204.54 287.52,204.41 288.00,204.93 C288.48,205.45 289.58,207.16 289.90,207.60" fill="none" stroke="#f20a0a" stroke-width="1.90" stroke-linejoin="round" stroke-linecap="round"/>
<path d="M48.20,126.60 C54.33,126.58 69.70,126.77 85.00,126.50 C100.30,126.23 120.83,125.62 140.00,125.00 C159.17,124.38 180.00,123.37 200.00,122.80 C220.00,122.23 245.00,121.50 260.00,121.60 C275.00,121.70 281.33,122.50 290.00,123.40 C298.67,124.30 308.33,126.40 312.00,127.00" fill="none" stroke="#222" stroke-width="1.0"/>
<path d="M48.20,351.80 C53.50,350.63 69.03,347.17 80.00,344.80 C90.97,342.43 104.00,339.97 114.00,337.60 C124.00,335.23 129.00,333.62 140.00,330.60 C151.00,327.58 168.33,322.77 180.00,319.50 C191.67,316.23 200.83,314.00 210.00,311.00 C219.17,308.00 226.67,304.83 235.00,301.50 C243.33,298.17 250.83,294.92 260.00,291.00 C269.17,287.08 281.17,281.58 290.00,278.00 C298.83,274.42 309.17,270.92 313.00,269.50" fill="none" stroke="#222" stroke-width="1.0"/>
<g stroke="#111" fill="none">
<rect x="48.20" y="1.50" width="331.10" height="350.30" stroke-width="1.6"/>
<line x1="48.20" y1="176.70" x2="379.30" y2="176.70" stroke-width="1.4"/>
<path d="M81.31,1.50 v3.50 M81.31,176.70 v-3.50 M81.31,351.80 v-3.50 M114.42,1.50 v6.30 M114.42,176.70 v-6.30 M114.42,351.80 v-6.30 M147.53,1.50 v3.50 M147.53,176.70 v-3.50 M147.53,351.80 v-3.50 M180.64,1.50 v6.30 M180.64,176.70 v-6.30 M180.64,351.80 v-6.30 M213.75,1.50 v3.50 M213.75,176.70 v-3.50 M213.75,351.80 v-3.50 M246.86,1.50 v6.30 M246.86,176.70 v-6.30 M246.86,351.80 v-6.30 M279.97,1.50 v3.50 M279.97,176.70 v-3.50 M279.97,351.80 v-3.50 M313.08,1.50 v6.30 M313.08,176.70 v-6.30 M313.08,351.80 v-6.30 M346.19,1.50 v3.50 M346.19,176.70 v-3.50 M346.19,351.80 v-3.50 M48.20,145.41 h3.50 M379.30,145.41 h-3.50 M48.20,114.13 h6.30 M379.30,114.13 h-6.30 M48.20,82.84 h3.50 M379.30,82.84 h-3.50 M48.20,51.56 h6.30 M379.30,51.56 h-6.30 M48.20,20.27 h3.50 M379.30,20.27 h-3.50 M48.20,329.91 h3.50 M379.30,329.91 h-3.50 M48.20,308.03 h6.30 M379.30,308.03 h-6.30 M48.20,286.14 h3.50 M379.30,286.14 h-3.50 M48.20,264.25 h6.30 M379.30,264.25 h-6.30 M48.20,242.36 h3.50 M379.30,242.36 h-3.50 M48.20,220.47 h6.30 M379.30,220.47 h-6.30 M48.20,198.59 h3.50 M379.30,198.59 h-3.50" stroke-width="1.3"/>
</g>
<text x="39.90" y="54.26" font-size="9.80" text-anchor="end" font-weight="normal" fill="#000" letter-spacing="-0.6">5,0</text>
<text x="39.90" y="116.83" font-size="9.80" text-anchor="end" font-weight="normal" fill="#000" letter-spacing="-0.6">4,5</text>
<text x="39.90" y="179.40" font-size="9.80" text-anchor="end" font-weight="normal" fill="#000" letter-spacing="-0.6">4,0</text>
<text x="39.90" y="354.50" font-size="9.80" text-anchor="end" font-weight="normal" fill="#000" letter-spacing="-0.6">0,0</text>
<text x="39.90" y="310.73" font-size="9.80" text-anchor="end" font-weight="normal" fill="#000" letter-spacing="-0.6">0,2</text>
<text x="39.90" y="266.95" font-size="9.80" text-anchor="end" font-weight="normal" fill="#000" letter-spacing="-0.6">0,4</text>
<text x="39.90" y="223.17" font-size="9.80" text-anchor="end" font-weight="normal" fill="#000" letter-spacing="-0.6">0,6</text>
<text x="48.20" y="369.40" font-size="13.20" text-anchor="middle" font-weight="normal" fill="#000" >0</text>
<text x="114.42" y="369.40" font-size="13.20" text-anchor="middle" font-weight="normal" fill="#000" >10</text>
<text x="180.64" y="369.40" font-size="13.20" text-anchor="middle" font-weight="normal" fill="#000" >20</text>
<text x="246.86" y="369.40" font-size="13.20" text-anchor="middle" font-weight="normal" fill="#000" >30</text>
<text x="313.08" y="369.40" font-size="13.20" text-anchor="middle" font-weight="normal" fill="#000" >40</text>
<text x="379.30" y="369.40" font-size="13.20" text-anchor="middle" font-weight="normal" fill="#000" >50</text>
<text x="146.30" y="388.40" font-size="15.40" text-anchor="start" font-weight="normal" fill="#000" >Wavenumber (cm<tspan font-size="8.5" dx="1.2" dy="-6.5">-1</tspan><tspan dx="1.5" dy="6.5">)</tspan></text>
<text transform="translate(11.5,133.3) rotate(-90)" font-size="15.25" fill="#000">Permittivity <tspan font-family="Liberation Serif" font-style="italic" font-size="16" dx="0.9">ε</tspan><tspan dx="2.9">'</tspan></text>
<text transform="translate(14.5,307.2) rotate(-90)" font-size="15.25" fill="#000">Permittivity <tspan font-family="Liberation Serif" font-style="italic" font-size="16" dx="0.9">ε</tspan><tspan dx="2.9">''</tspan></text>
<text x="342.00" y="28.00" font-size="17.30" text-anchor="start" font-weight="normal" fill="#000" >A</text>
<text x="342.30" y="331.40" font-size="17.30" text-anchor="start" font-weight="normal" fill="#000" >B</text>
<text x="106.00" y="47.60" font-size="9.20" text-anchor="start" font-weight="bold" fill="#f20a0a"  stroke="#f20a0a" stroke-width="0.18">325 K</text>
<text x="58.10" y="78.00" font-size="9.20" text-anchor="start" font-weight="bold" fill="#ff5a0a"  stroke="#ff5a0a" stroke-width="0.18">290 K</text>
<text x="55.00" y="91.50" font-size="9.20" text-anchor="start" font-weight="bold" fill="#38f50a"  stroke="#38f50a" stroke-width="0.18">250 K</text>
<text x="55.70" y="111.60" font-size="9.20" text-anchor="start" font-weight="bold" fill="#138a5c"  stroke="#138a5c" stroke-width="0.18">200 K</text>
<text x="65.90" y="141.90" font-size="9.20" text-anchor="start" font-weight="bold" fill="#1212c8"  stroke="#1212c8" stroke-width="0.18">5 K</text>
<text x="95.90" y="232.30" font-size="9.20" text-anchor="start" font-weight="bold" fill="#f20a0a"  stroke="#f20a0a" stroke-width="0.18">325 K</text>
<text x="58.30" y="274.70" font-size="9.20" text-anchor="start" font-weight="bold" fill="#ff5a0a"  stroke="#ff5a0a" stroke-width="0.18">290 K</text>
<text x="55.20" y="303.70" font-size="9.20" text-anchor="start" font-weight="bold" fill="#38f50a"  stroke="#38f50a" stroke-width="0.18">250 K</text>
<text x="55.20" y="324.30" font-size="9.20" text-anchor="start" font-weight="bold" fill="#138a5c"  stroke="#138a5c" stroke-width="0.18">200 K</text>
<text x="172.40" y="337.30" font-size="9.20" text-anchor="start" font-weight="bold" fill="#1212c8"  stroke="#1212c8" stroke-width="0.18">5 K</text>
</svg>
</body></html>
